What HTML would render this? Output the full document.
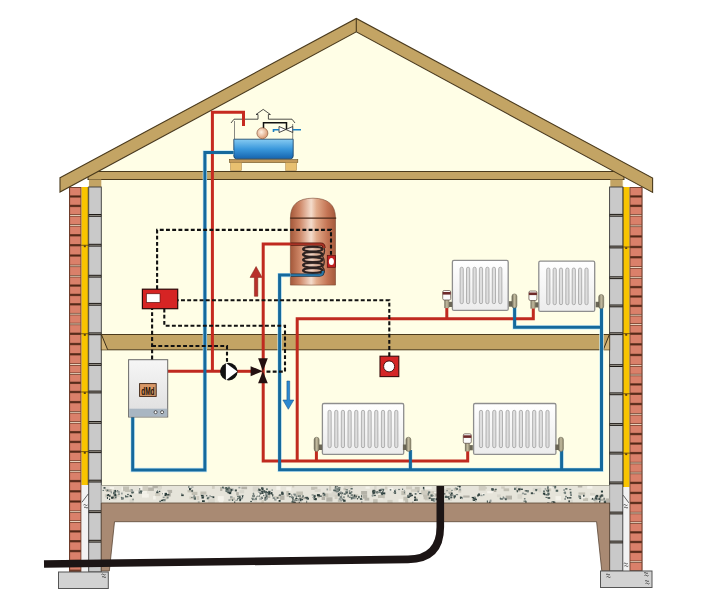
<!DOCTYPE html>
<html><head><meta charset="utf-8"><style>
html,body{margin:0;padding:0;background:#fff;overflow:hidden;width:712px;height:604px;}
svg{display:block;}
</style></head><body>
<svg width="712" height="604" viewBox="0 0 712 604">
<defs><linearGradient id="wat" x1="0" y1="0" x2="0" y2="1"><stop offset="0" stop-color="#86cbf2"/><stop offset="0.5" stop-color="#3a98dc"/><stop offset="1" stop-color="#1664ae"/></linearGradient><radialGradient id="ball" cx="0.4" cy="0.4" r="0.6"><stop offset="0" stop-color="#fff2e4"/><stop offset="1" stop-color="#dc9c74"/></radialGradient><linearGradient id="cop" x1="0" y1="0" x2="1" y2="0"><stop offset="0" stop-color="#a4583a"/><stop offset="0.2" stop-color="#cc8464"/><stop offset="0.46" stop-color="#f4dccc"/><stop offset="0.58" stop-color="#e2ac8c"/><stop offset="0.82" stop-color="#c47454"/><stop offset="1" stop-color="#a45a3c"/></linearGradient><linearGradient id="boil" x1="0" y1="0" x2="0" y2="1"><stop offset="0" stop-color="#f6f6f6"/><stop offset="1" stop-color="#dedede"/></linearGradient><linearGradient id="rad" x1="0" y1="0" x2="0" y2="1"><stop offset="0" stop-color="#ffffff"/><stop offset="1" stop-color="#ececec"/></linearGradient><linearGradient id="lks" x1="0" y1="0" x2="1" y2="0"><stop offset="0" stop-color="#6e6a58"/><stop offset="0.5" stop-color="#c4bca0"/><stop offset="1" stop-color="#8a846c"/></linearGradient></defs>
<rect x="0" y="0" width="712" height="604" fill="#ffffff"/>
<path d="M88,178 L356,32 L624,178 L624,486 L88,486 Z" fill="#fffee6"/>
<rect x="88" y="171.5" width="536" height="8" fill="#c3a464" stroke="#4a3a1c" stroke-width="1"/>
<rect x="89" y="179.5" width="12.3" height="7.5" fill="#c3a464"/>
<rect x="610.3" y="179.5" width="12.4" height="7.5" fill="#c3a464"/>
<rect x="69" y="187" width="12.6" height="385" fill="#6e3c2a"/>
<rect x="70.1" y="187.90" width="10.4" height="7.37" fill="#da806a"/>
<rect x="70.1" y="197.67" width="10.4" height="7.07" fill="#da806a"/>
<rect x="70.1" y="207.13" width="10.4" height="7.07" fill="#da806a"/>
<rect x="70.1" y="216.60" width="10.4" height="7.53" fill="#da806a"/>
<rect x="70.1" y="226.53" width="10.4" height="7.53" fill="#da806a"/>
<rect x="70.1" y="236.47" width="10.4" height="7.53" fill="#da806a"/>
<rect x="70.1" y="246.40" width="10.4" height="7.93" fill="#da806a"/>
<rect x="70.1" y="256.73" width="10.4" height="7.93" fill="#da806a"/>
<rect x="70.1" y="267.07" width="10.4" height="7.93" fill="#da806a"/>
<rect x="70.1" y="277.40" width="10.4" height="6.97" fill="#da806a"/>
<rect x="70.1" y="286.77" width="10.4" height="6.97" fill="#da806a"/>
<rect x="70.1" y="296.13" width="10.4" height="6.97" fill="#da806a"/>
<rect x="70.1" y="305.50" width="10.4" height="7.43" fill="#da806a"/>
<rect x="70.1" y="315.33" width="10.4" height="7.43" fill="#da806a"/>
<rect x="70.1" y="325.17" width="10.4" height="7.43" fill="#da806a"/>
<rect x="70.1" y="335.00" width="10.4" height="7.83" fill="#da806a"/>
<rect x="70.1" y="345.23" width="10.4" height="7.83" fill="#da806a"/>
<rect x="70.1" y="355.47" width="10.4" height="7.83" fill="#da806a"/>
<rect x="70.1" y="365.70" width="10.4" height="6.77" fill="#da806a"/>
<rect x="70.1" y="374.87" width="10.4" height="6.77" fill="#da806a"/>
<rect x="70.1" y="384.03" width="10.4" height="6.77" fill="#da806a"/>
<rect x="70.1" y="393.20" width="10.4" height="7.73" fill="#da806a"/>
<rect x="70.1" y="403.33" width="10.4" height="7.73" fill="#da806a"/>
<rect x="70.1" y="413.47" width="10.4" height="7.73" fill="#da806a"/>
<rect x="70.1" y="423.60" width="10.4" height="7.37" fill="#da806a"/>
<rect x="70.1" y="433.37" width="10.4" height="7.37" fill="#da806a"/>
<rect x="70.1" y="443.13" width="10.4" height="7.37" fill="#da806a"/>
<rect x="70.1" y="452.90" width="10.4" height="7.40" fill="#da806a"/>
<rect x="70.1" y="462.70" width="10.4" height="7.40" fill="#da806a"/>
<rect x="70.1" y="472.50" width="10.4" height="7.40" fill="#da806a"/>
<rect x="70.1" y="482.30" width="10.4" height="7.80" fill="#da806a"/>
<rect x="70.1" y="492.50" width="10.4" height="7.80" fill="#da806a"/>
<rect x="70.1" y="502.70" width="10.4" height="7.80" fill="#da806a"/>
<rect x="70.1" y="512.90" width="10.4" height="7.43" fill="#da806a"/>
<rect x="70.1" y="522.73" width="10.4" height="7.43" fill="#da806a"/>
<rect x="70.1" y="532.57" width="10.4" height="7.43" fill="#da806a"/>
<rect x="70.1" y="542.40" width="10.4" height="7.47" fill="#da806a"/>
<rect x="70.1" y="552.27" width="10.4" height="7.47" fill="#da806a"/>
<rect x="70.1" y="562.13" width="10.4" height="7.47" fill="#da806a"/>
<rect x="70.1" y="196.02" width="10.4" height="0.9" fill="#4e2414"/>
<rect x="70.1" y="205.48" width="10.4" height="0.9" fill="#4e2414"/>
<rect x="70.1" y="214.95" width="10.4" height="0.9" fill="#f4e2cc"/>
<rect x="70.1" y="224.88" width="10.4" height="0.9" fill="#f4e2cc"/>
<rect x="70.1" y="234.82" width="10.4" height="0.9" fill="#4e2414"/>
<rect x="70.1" y="244.75" width="10.4" height="0.9" fill="#4e2414"/>
<rect x="70.1" y="255.08" width="10.4" height="0.9" fill="#4e2414"/>
<rect x="70.1" y="265.42" width="10.4" height="0.9" fill="#f4e2cc"/>
<rect x="70.1" y="275.75" width="10.4" height="0.9" fill="#f4e2cc"/>
<rect x="70.1" y="285.12" width="10.4" height="0.9" fill="#4e2414"/>
<rect x="70.1" y="294.48" width="10.4" height="0.9" fill="#4e2414"/>
<rect x="70.1" y="303.85" width="10.4" height="0.9" fill="#4e2414"/>
<rect x="70.1" y="313.68" width="10.4" height="0.9" fill="#f4e2cc"/>
<rect x="70.1" y="323.52" width="10.4" height="0.9" fill="#f4e2cc"/>
<rect x="70.1" y="333.35" width="10.4" height="0.9" fill="#4e2414"/>
<rect x="70.1" y="343.58" width="10.4" height="0.9" fill="#4e2414"/>
<rect x="70.1" y="353.82" width="10.4" height="0.9" fill="#4e2414"/>
<rect x="70.1" y="364.05" width="10.4" height="0.9" fill="#f4e2cc"/>
<rect x="70.1" y="373.22" width="10.4" height="0.9" fill="#f4e2cc"/>
<rect x="70.1" y="382.38" width="10.4" height="0.9" fill="#4e2414"/>
<rect x="70.1" y="391.55" width="10.4" height="0.9" fill="#4e2414"/>
<rect x="70.1" y="401.68" width="10.4" height="0.9" fill="#4e2414"/>
<rect x="70.1" y="411.82" width="10.4" height="0.9" fill="#f4e2cc"/>
<rect x="70.1" y="421.95" width="10.4" height="0.9" fill="#f4e2cc"/>
<rect x="70.1" y="431.72" width="10.4" height="0.9" fill="#4e2414"/>
<rect x="70.1" y="441.48" width="10.4" height="0.9" fill="#4e2414"/>
<rect x="70.1" y="451.25" width="10.4" height="0.9" fill="#4e2414"/>
<rect x="70.1" y="461.05" width="10.4" height="0.9" fill="#f4e2cc"/>
<rect x="70.1" y="470.85" width="10.4" height="0.9" fill="#f4e2cc"/>
<rect x="70.1" y="480.65" width="10.4" height="0.9" fill="#4e2414"/>
<rect x="70.1" y="490.85" width="10.4" height="0.9" fill="#4e2414"/>
<rect x="70.1" y="501.05" width="10.4" height="0.9" fill="#4e2414"/>
<rect x="70.1" y="511.25" width="10.4" height="0.9" fill="#f4e2cc"/>
<rect x="70.1" y="521.08" width="10.4" height="0.9" fill="#f4e2cc"/>
<rect x="70.1" y="530.92" width="10.4" height="0.9" fill="#4e2414"/>
<rect x="70.1" y="540.75" width="10.4" height="0.9" fill="#4e2414"/>
<rect x="70.1" y="550.62" width="10.4" height="0.9" fill="#4e2414"/>
<rect x="70.1" y="560.48" width="10.4" height="0.9" fill="#f4e2cc"/>
<rect x="81.6" y="187" width="6.8" height="298" fill="#f8c400"/>
<rect x="87.60000000000001" y="187" width="0.8" height="298" fill="#9a7a10"/>
<rect x="81.6" y="485" width="6.8" height="87" fill="#f2f2f2"/>
<rect x="80.6" y="244.8" width="8.8" height="0.8" fill="#5a4010"/>
<rect x="83.8" y="245.4" width="2" height="1.8" fill="#5a4010"/>
<rect x="80.6" y="333.4" width="8.8" height="0.8" fill="#5a4010"/>
<rect x="83.8" y="334.0" width="2" height="1.8" fill="#5a4010"/>
<rect x="80.6" y="391.6" width="8.8" height="0.8" fill="#5a4010"/>
<rect x="83.8" y="392.2" width="2" height="1.8" fill="#5a4010"/>
<rect x="80.6" y="451.3" width="8.8" height="0.8" fill="#5a4010"/>
<rect x="83.8" y="451.9" width="2" height="1.8" fill="#5a4010"/>
<rect x="88.7" y="187" width="12.6" height="385" fill="#c9c9c9" stroke="#3a3a3a" stroke-width="0.9"/>
<rect x="88.7" y="214.00" width="12.6" height="2.8" fill="#1e1a16"/>
<rect x="89.2" y="215.00" width="11.6" height="0.8" fill="#a8a49a"/>
<rect x="88.7" y="243.80" width="12.6" height="2.8" fill="#1e1a16"/>
<rect x="89.2" y="244.80" width="11.6" height="0.8" fill="#a8a49a"/>
<rect x="88.7" y="274.80" width="12.6" height="2.8" fill="#1e1a16"/>
<rect x="89.2" y="275.80" width="11.6" height="0.8" fill="#a8a49a"/>
<rect x="88.7" y="302.90" width="12.6" height="2.8" fill="#1e1a16"/>
<rect x="89.2" y="303.90" width="11.6" height="0.8" fill="#a8a49a"/>
<rect x="88.7" y="332.40" width="12.6" height="2.8" fill="#1e1a16"/>
<rect x="89.2" y="333.40" width="11.6" height="0.8" fill="#a8a49a"/>
<rect x="88.7" y="363.10" width="12.6" height="2.8" fill="#1e1a16"/>
<rect x="89.2" y="364.10" width="11.6" height="0.8" fill="#a8a49a"/>
<rect x="88.7" y="390.60" width="12.6" height="2.8" fill="#1e1a16"/>
<rect x="89.2" y="391.60" width="11.6" height="0.8" fill="#a8a49a"/>
<rect x="88.7" y="421.00" width="12.6" height="2.8" fill="#1e1a16"/>
<rect x="89.2" y="422.00" width="11.6" height="0.8" fill="#a8a49a"/>
<rect x="88.7" y="450.30" width="12.6" height="2.8" fill="#1e1a16"/>
<rect x="89.2" y="451.30" width="11.6" height="0.8" fill="#a8a49a"/>
<rect x="88.7" y="479.70" width="12.6" height="2.8" fill="#1e1a16"/>
<rect x="89.2" y="480.70" width="11.6" height="0.8" fill="#a8a49a"/>
<rect x="88.7" y="510.30" width="12.6" height="2.8" fill="#1e1a16"/>
<rect x="89.2" y="511.30" width="11.6" height="0.8" fill="#a8a49a"/>
<rect x="88.7" y="539.80" width="12.6" height="2.8" fill="#1e1a16"/>
<rect x="89.2" y="540.80" width="11.6" height="0.8" fill="#a8a49a"/>
<rect x="629.3" y="187" width="13.3" height="384" fill="#6e3c2a"/>
<rect x="630.4" y="187.90" width="11.1" height="7.33" fill="#da806a"/>
<rect x="630.4" y="197.63" width="11.1" height="7.03" fill="#da806a"/>
<rect x="630.4" y="207.07" width="11.1" height="7.03" fill="#da806a"/>
<rect x="630.4" y="216.50" width="11.1" height="8.17" fill="#da806a"/>
<rect x="630.4" y="227.07" width="11.1" height="8.17" fill="#da806a"/>
<rect x="630.4" y="237.63" width="11.1" height="8.17" fill="#da806a"/>
<rect x="630.4" y="248.20" width="11.1" height="7.83" fill="#da806a"/>
<rect x="630.4" y="258.43" width="11.1" height="7.83" fill="#da806a"/>
<rect x="630.4" y="268.67" width="11.1" height="7.83" fill="#da806a"/>
<rect x="630.4" y="278.90" width="11.1" height="7.00" fill="#da806a"/>
<rect x="630.4" y="288.30" width="11.1" height="7.00" fill="#da806a"/>
<rect x="630.4" y="297.70" width="11.1" height="7.00" fill="#da806a"/>
<rect x="630.4" y="307.10" width="11.1" height="6.87" fill="#da806a"/>
<rect x="630.4" y="316.37" width="11.1" height="6.87" fill="#da806a"/>
<rect x="630.4" y="325.63" width="11.1" height="6.87" fill="#da806a"/>
<rect x="630.4" y="334.90" width="11.1" height="8.23" fill="#da806a"/>
<rect x="630.4" y="345.53" width="11.1" height="8.23" fill="#da806a"/>
<rect x="630.4" y="356.17" width="11.1" height="8.23" fill="#da806a"/>
<rect x="630.4" y="366.80" width="11.1" height="7.00" fill="#da806a"/>
<rect x="630.4" y="376.20" width="11.1" height="7.00" fill="#da806a"/>
<rect x="630.4" y="385.60" width="11.1" height="7.00" fill="#da806a"/>
<rect x="630.4" y="395.00" width="11.1" height="7.83" fill="#da806a"/>
<rect x="630.4" y="405.23" width="11.1" height="7.83" fill="#da806a"/>
<rect x="630.4" y="415.47" width="11.1" height="7.83" fill="#da806a"/>
<rect x="630.4" y="425.70" width="11.1" height="7.13" fill="#da806a"/>
<rect x="630.4" y="435.23" width="11.1" height="7.13" fill="#da806a"/>
<rect x="630.4" y="444.77" width="11.1" height="7.13" fill="#da806a"/>
<rect x="630.4" y="454.30" width="11.1" height="7.53" fill="#da806a"/>
<rect x="630.4" y="464.23" width="11.1" height="7.53" fill="#da806a"/>
<rect x="630.4" y="474.17" width="11.1" height="7.53" fill="#da806a"/>
<rect x="630.4" y="484.10" width="11.1" height="7.63" fill="#da806a"/>
<rect x="630.4" y="494.13" width="11.1" height="7.63" fill="#da806a"/>
<rect x="630.4" y="504.17" width="11.1" height="7.63" fill="#da806a"/>
<rect x="630.4" y="514.20" width="11.1" height="7.27" fill="#da806a"/>
<rect x="630.4" y="523.87" width="11.1" height="7.27" fill="#da806a"/>
<rect x="630.4" y="533.53" width="11.1" height="7.27" fill="#da806a"/>
<rect x="630.4" y="543.20" width="11.1" height="7.47" fill="#da806a"/>
<rect x="630.4" y="553.07" width="11.1" height="7.47" fill="#da806a"/>
<rect x="630.4" y="562.93" width="11.1" height="7.27" fill="#da806a"/>
<rect x="630.4" y="195.98" width="11.1" height="0.9" fill="#4e2414"/>
<rect x="630.4" y="205.42" width="11.1" height="0.9" fill="#4e2414"/>
<rect x="630.4" y="214.85" width="11.1" height="0.9" fill="#f4e2cc"/>
<rect x="630.4" y="225.42" width="11.1" height="0.9" fill="#f4e2cc"/>
<rect x="630.4" y="235.98" width="11.1" height="0.9" fill="#4e2414"/>
<rect x="630.4" y="246.55" width="11.1" height="0.9" fill="#4e2414"/>
<rect x="630.4" y="256.78" width="11.1" height="0.9" fill="#4e2414"/>
<rect x="630.4" y="267.02" width="11.1" height="0.9" fill="#f4e2cc"/>
<rect x="630.4" y="277.25" width="11.1" height="0.9" fill="#f4e2cc"/>
<rect x="630.4" y="286.65" width="11.1" height="0.9" fill="#4e2414"/>
<rect x="630.4" y="296.05" width="11.1" height="0.9" fill="#4e2414"/>
<rect x="630.4" y="305.45" width="11.1" height="0.9" fill="#4e2414"/>
<rect x="630.4" y="314.72" width="11.1" height="0.9" fill="#f4e2cc"/>
<rect x="630.4" y="323.98" width="11.1" height="0.9" fill="#f4e2cc"/>
<rect x="630.4" y="333.25" width="11.1" height="0.9" fill="#4e2414"/>
<rect x="630.4" y="343.88" width="11.1" height="0.9" fill="#4e2414"/>
<rect x="630.4" y="354.52" width="11.1" height="0.9" fill="#4e2414"/>
<rect x="630.4" y="365.15" width="11.1" height="0.9" fill="#f4e2cc"/>
<rect x="630.4" y="374.55" width="11.1" height="0.9" fill="#f4e2cc"/>
<rect x="630.4" y="383.95" width="11.1" height="0.9" fill="#4e2414"/>
<rect x="630.4" y="393.35" width="11.1" height="0.9" fill="#4e2414"/>
<rect x="630.4" y="403.58" width="11.1" height="0.9" fill="#4e2414"/>
<rect x="630.4" y="413.82" width="11.1" height="0.9" fill="#f4e2cc"/>
<rect x="630.4" y="424.05" width="11.1" height="0.9" fill="#f4e2cc"/>
<rect x="630.4" y="433.58" width="11.1" height="0.9" fill="#4e2414"/>
<rect x="630.4" y="443.12" width="11.1" height="0.9" fill="#4e2414"/>
<rect x="630.4" y="452.65" width="11.1" height="0.9" fill="#4e2414"/>
<rect x="630.4" y="462.58" width="11.1" height="0.9" fill="#f4e2cc"/>
<rect x="630.4" y="472.52" width="11.1" height="0.9" fill="#f4e2cc"/>
<rect x="630.4" y="482.45" width="11.1" height="0.9" fill="#4e2414"/>
<rect x="630.4" y="492.48" width="11.1" height="0.9" fill="#4e2414"/>
<rect x="630.4" y="502.52" width="11.1" height="0.9" fill="#4e2414"/>
<rect x="630.4" y="512.55" width="11.1" height="0.9" fill="#f4e2cc"/>
<rect x="630.4" y="522.22" width="11.1" height="0.9" fill="#f4e2cc"/>
<rect x="630.4" y="531.88" width="11.1" height="0.9" fill="#4e2414"/>
<rect x="630.4" y="541.55" width="11.1" height="0.9" fill="#4e2414"/>
<rect x="630.4" y="551.42" width="11.1" height="0.9" fill="#4e2414"/>
<rect x="630.4" y="561.28" width="11.1" height="0.9" fill="#f4e2cc"/>
<rect x="623.0" y="187" width="6.3" height="300" fill="#f8c400"/>
<rect x="623.0" y="187" width="0.8" height="300" fill="#9a7a10"/>
<rect x="623.0" y="487" width="6.3" height="84" fill="#f2f2f2"/>
<rect x="622.0" y="246.6" width="8.3" height="0.8" fill="#5a4010"/>
<rect x="625.2" y="247.2" width="2" height="1.8" fill="#5a4010"/>
<rect x="622.0" y="333.3" width="8.3" height="0.8" fill="#5a4010"/>
<rect x="625.2" y="333.9" width="2" height="1.8" fill="#5a4010"/>
<rect x="622.0" y="393.4" width="8.3" height="0.8" fill="#5a4010"/>
<rect x="625.2" y="394.0" width="2" height="1.8" fill="#5a4010"/>
<rect x="622.0" y="452.7" width="8.3" height="0.8" fill="#5a4010"/>
<rect x="625.2" y="453.3" width="2" height="1.8" fill="#5a4010"/>
<rect x="609.6" y="187" width="13.2" height="384" fill="#c9c9c9" stroke="#3a3a3a" stroke-width="0.9"/>
<rect x="609.6" y="213.90" width="13.2" height="2.8" fill="#1e1a16"/>
<rect x="610.1" y="214.90" width="12.2" height="0.8" fill="#a8a49a"/>
<rect x="609.6" y="245.60" width="13.2" height="2.8" fill="#1e1a16"/>
<rect x="610.1" y="246.60" width="12.2" height="0.8" fill="#a8a49a"/>
<rect x="609.6" y="276.30" width="13.2" height="2.8" fill="#1e1a16"/>
<rect x="610.1" y="277.30" width="12.2" height="0.8" fill="#a8a49a"/>
<rect x="609.6" y="304.50" width="13.2" height="2.8" fill="#1e1a16"/>
<rect x="610.1" y="305.50" width="12.2" height="0.8" fill="#a8a49a"/>
<rect x="609.6" y="332.30" width="13.2" height="2.8" fill="#1e1a16"/>
<rect x="610.1" y="333.30" width="12.2" height="0.8" fill="#a8a49a"/>
<rect x="609.6" y="364.20" width="13.2" height="2.8" fill="#1e1a16"/>
<rect x="610.1" y="365.20" width="12.2" height="0.8" fill="#a8a49a"/>
<rect x="609.6" y="392.40" width="13.2" height="2.8" fill="#1e1a16"/>
<rect x="610.1" y="393.40" width="12.2" height="0.8" fill="#a8a49a"/>
<rect x="609.6" y="423.10" width="13.2" height="2.8" fill="#1e1a16"/>
<rect x="610.1" y="424.10" width="12.2" height="0.8" fill="#a8a49a"/>
<rect x="609.6" y="451.70" width="13.2" height="2.8" fill="#1e1a16"/>
<rect x="610.1" y="452.70" width="12.2" height="0.8" fill="#a8a49a"/>
<rect x="609.6" y="481.50" width="13.2" height="2.8" fill="#1e1a16"/>
<rect x="610.1" y="482.50" width="12.2" height="0.8" fill="#a8a49a"/>
<rect x="609.6" y="511.60" width="13.2" height="2.8" fill="#1e1a16"/>
<rect x="610.1" y="512.60" width="12.2" height="0.8" fill="#a8a49a"/>
<rect x="609.6" y="540.60" width="13.2" height="2.8" fill="#1e1a16"/>
<rect x="610.1" y="541.60" width="12.2" height="0.8" fill="#a8a49a"/>
<path d="M88.3,493.9 L81.9,502.3" stroke="#222" stroke-width="0.7" fill="none"/>
<path d="M623.2,495.2 L628.8,502.8" stroke="#222" stroke-width="0.7" fill="none"/>
<path d="M83.5,505.0 q1,-1 2,0 q1,1 2,0 M84.0,507.5 q1,-1 2,0 q1,1 2,0" stroke="#222" stroke-width="0.7" fill="none"/>
<path d="M623.5,505.0 q1,-1 2,0 q1,1 2,0 M624.0,507.5 q1,-1 2,0 q1,1 2,0" stroke="#222" stroke-width="0.7" fill="none"/>
<path d="M623.8,563.5 q1,-1 2,0 q1,1 2,0 M624.3,566 q1,-1 2,0 q1,1 2,0" stroke="#222" stroke-width="0.7" fill="none"/>
<rect x="101.3" y="334.5" width="508.3" height="15.3" fill="#c3a464" stroke="#4a3a1c" stroke-width="1"/>
<path d="M101.8,335.2 L107.5,349.4 L101.8,349.4 Z" fill="#d4b678"/>
<path d="M609.2,335.2 L603.5,349.4 L609.2,349.4 Z" fill="#d4b678"/>
<path d="M101.6,335 L107.6,349.6" stroke="#2a2010" stroke-width="0.9"/>
<path d="M609.2,335 L603.4,349.6" stroke="#2a2010" stroke-width="0.9"/>
<filter id="sb" x="-10%" y="-50%" width="120%" height="200%"><feGaussianBlur stdDeviation="0.45"/></filter>
<clipPath id="slabclip"><rect x="101.5" y="485.3" width="508" height="17.7"/></clipPath>
<rect x="101.5" y="485.3" width="508" height="17.7" fill="#e6e4da"/>
<g clip-path="url(#slabclip)" filter="url(#sb)">
<rect x="328.9" y="493.4" width="6.6" height="3.4" fill="#d8d6cc"/>
<rect x="532.7" y="487.8" width="6.0" height="3.4" fill="#d8d6cc"/>
<rect x="501.2" y="486.4" width="3.5" height="2.3" fill="#cfccc0"/>
<rect x="401.3" y="490.9" width="4.3" height="4.2" fill="#c2c0b4"/>
<rect x="415.3" y="497.5" width="2.3" height="2.1" fill="#c2c0b4"/>
<rect x="403.4" y="496.7" width="3.6" height="3.8" fill="#c2c0b4"/>
<rect x="362.7" y="494.6" width="4.5" height="4.0" fill="#b4b2a8"/>
<rect x="431.3" y="491.1" width="4.8" height="4.8" fill="#cfccc0"/>
<rect x="458.2" y="489.7" width="3.1" height="2.9" fill="#cfccc0"/>
<rect x="384.9" y="486.6" width="2.5" height="2.9" fill="#cfccc0"/>
<rect x="584.8" y="497.7" width="2.0" height="2.6" fill="#cfccc0"/>
<rect x="337.8" y="499.7" width="4.0" height="2.2" fill="#c2c0b4"/>
<rect x="493.9" y="489.0" width="2.4" height="3.0" fill="#b4b2a8"/>
<rect x="483.6" y="486.8" width="3.2" height="2.3" fill="#cfccc0"/>
<rect x="335.3" y="492.3" width="5.4" height="2.6" fill="#d8d6cc"/>
<rect x="196.5" y="496.0" width="2.7" height="3.9" fill="#cfccc0"/>
<rect x="299.8" y="499.9" width="2.0" height="4.6" fill="#d8d6cc"/>
<rect x="253.9" y="498.3" width="3.1" height="3.2" fill="#d8d6cc"/>
<rect x="424.8" y="486.5" width="6.9" height="2.6" fill="#f4f2ea"/>
<rect x="104.8" y="494.2" width="6.2" height="3.2" fill="#cfccc0"/>
<rect x="145.6" y="493.7" width="3.2" height="3.8" fill="#f4f2ea"/>
<rect x="414.8" y="486.9" width="4.9" height="4.5" fill="#c2c0b4"/>
<rect x="538.5" y="487.7" width="2.8" height="4.7" fill="#d8d6cc"/>
<rect x="226.2" y="487.8" width="5.7" height="4.8" fill="#c2c0b4"/>
<rect x="447.6" y="490.8" width="4.4" height="2.2" fill="#cfccc0"/>
<rect x="152.5" y="485.6" width="6.8" height="2.7" fill="#b4b2a8"/>
<rect x="230.0" y="497.4" width="5.0" height="2.9" fill="#c2c0b4"/>
<rect x="570.2" y="499.7" width="2.6" height="3.4" fill="#d8d6cc"/>
<rect x="410.8" y="489.2" width="6.6" height="2.6" fill="#cfccc0"/>
<rect x="135.0" y="491.2" width="3.2" height="2.1" fill="#f4f2ea"/>
<rect x="286.6" y="493.6" width="2.7" height="3.1" fill="#b4b2a8"/>
<rect x="596.1" y="494.9" width="5.5" height="3.8" fill="#c2c0b4"/>
<rect x="398.5" y="498.9" width="4.4" height="3.1" fill="#f4f2ea"/>
<rect x="587.2" y="485.3" width="5.2" height="3.4" fill="#f4f2ea"/>
<rect x="261.4" y="500.0" width="2.4" height="3.6" fill="#cfccc0"/>
<rect x="555.5" y="496.1" width="5.5" height="4.4" fill="#f4f2ea"/>
<rect x="278.0" y="495.3" width="6.5" height="4.6" fill="#b4b2a8"/>
<rect x="577.8" y="485.5" width="4.5" height="2.0" fill="#b4b2a8"/>
<rect x="291.9" y="485.2" width="2.4" height="2.3" fill="#cfccc0"/>
<rect x="602.6" y="498.2" width="5.6" height="3.2" fill="#d8d6cc"/>
<rect x="331.6" y="491.9" width="4.7" height="3.6" fill="#d8d6cc"/>
<rect x="115.1" y="494.0" width="4.4" height="2.7" fill="#cfccc0"/>
<rect x="351.6" y="494.2" width="6.6" height="2.8" fill="#cfccc0"/>
<rect x="286.2" y="487.1" width="5.1" height="3.6" fill="#f4f2ea"/>
<rect x="434.0" y="491.6" width="6.5" height="3.0" fill="#f4f2ea"/>
<rect x="200.4" y="491.5" width="6.0" height="4.7" fill="#c2c0b4"/>
<rect x="294.5" y="493.7" width="3.6" height="2.4" fill="#b4b2a8"/>
<rect x="277.5" y="498.4" width="2.2" height="2.2" fill="#f4f2ea"/>
<rect x="515.9" y="486.7" width="4.4" height="4.8" fill="#b4b2a8"/>
<rect x="293.6" y="492.8" width="5.4" height="4.1" fill="#d8d6cc"/>
<rect x="329.0" y="486.1" width="2.2" height="4.6" fill="#cfccc0"/>
<rect x="443.2" y="489.2" width="3.8" height="3.9" fill="#d8d6cc"/>
<rect x="109.7" y="487.0" width="4.3" height="2.1" fill="#f4f2ea"/>
<rect x="220.1" y="487.1" width="2.2" height="3.9" fill="#b4b2a8"/>
<rect x="155.2" y="493.0" width="5.2" height="3.1" fill="#cfccc0"/>
<rect x="446.4" y="488.0" width="4.4" height="2.5" fill="#cfccc0"/>
<rect x="482.1" y="493.0" width="2.2" height="2.7" fill="#f4f2ea"/>
<rect x="373.1" y="499.2" width="4.5" height="5.0" fill="#c2c0b4"/>
<rect x="299.1" y="496.9" width="6.5" height="2.3" fill="#b4b2a8"/>
<rect x="165.7" y="491.8" width="5.1" height="4.7" fill="#b4b2a8"/>
<rect x="378.3" y="494.8" width="4.5" height="4.5" fill="#f4f2ea"/>
<rect x="334.6" y="494.8" width="3.0" height="4.2" fill="#cfccc0"/>
<rect x="207.9" y="498.5" width="6.9" height="4.9" fill="#d8d6cc"/>
<rect x="594.2" y="499.0" width="3.3" height="4.2" fill="#cfccc0"/>
<rect x="276.3" y="486.2" width="4.2" height="3.7" fill="#f4f2ea"/>
<rect x="346.6" y="485.4" width="6.0" height="2.2" fill="#cfccc0"/>
<rect x="187.5" y="490.0" width="5.9" height="2.4" fill="#c2c0b4"/>
<rect x="605.9" y="498.5" width="4.6" height="4.0" fill="#b4b2a8"/>
<rect x="578.5" y="492.4" width="6.7" height="2.3" fill="#c2c0b4"/>
<rect x="322.3" y="493.4" width="6.2" height="3.7" fill="#c2c0b4"/>
<rect x="364.5" y="497.7" width="4.8" height="2.9" fill="#b4b2a8"/>
<rect x="583.1" y="498.1" width="5.0" height="2.9" fill="#c2c0b4"/>
<rect x="590.0" y="492.9" width="4.9" height="2.6" fill="#d8d6cc"/>
<rect x="157.8" y="485.1" width="3.9" height="3.6" fill="#cfccc0"/>
<rect x="361.1" y="491.0" width="6.0" height="3.7" fill="#b4b2a8"/>
<rect x="147.2" y="487.5" width="6.7" height="3.4" fill="#b4b2a8"/>
<rect x="236.2" y="492.1" width="2.6" height="3.3" fill="#b4b2a8"/>
<rect x="365.6" y="486.6" width="4.1" height="2.1" fill="#f4f2ea"/>
<rect x="165.5" y="496.7" width="2.1" height="2.6" fill="#c2c0b4"/>
<rect x="106.0" y="489.3" width="5.6" height="2.7" fill="#b4b2a8"/>
<rect x="153.1" y="496.0" width="2.6" height="3.5" fill="#f4f2ea"/>
<rect x="463.2" y="495.5" width="6.4" height="2.1" fill="#b4b2a8"/>
<rect x="517.5" y="494.2" width="4.7" height="4.6" fill="#d8d6cc"/>
<rect x="423.1" y="492.9" width="6.3" height="3.8" fill="#c2c0b4"/>
<rect x="217.7" y="496.1" width="6.1" height="4.7" fill="#f4f2ea"/>
<rect x="405.2" y="498.4" width="3.0" height="4.3" fill="#c2c0b4"/>
<rect x="549.1" y="487.0" width="3.2" height="4.2" fill="#f4f2ea"/>
<rect x="296.3" y="491.5" width="6.7" height="3.6" fill="#c2c0b4"/>
<rect x="201.5" y="494.4" width="6.0" height="2.3" fill="#d8d6cc"/>
<rect x="445.3" y="498.7" width="6.8" height="2.3" fill="#d8d6cc"/>
<rect x="421.1" y="490.2" width="7.0" height="4.5" fill="#cfccc0"/>
<rect x="343.9" y="485.4" width="5.8" height="3.8" fill="#d8d6cc"/>
<rect x="343.5" y="487.8" width="2.6" height="2.5" fill="#c2c0b4"/>
<rect x="601.1" y="498.9" width="2.5" height="2.2" fill="#b4b2a8"/>
<rect x="139.3" y="486.5" width="4.0" height="3.3" fill="#f4f2ea"/>
<rect x="317.6" y="494.0" width="2.1" height="4.1" fill="#c2c0b4"/>
<rect x="191.7" y="491.8" width="5.7" height="3.2" fill="#c2c0b4"/>
<rect x="406.1" y="486.4" width="6.0" height="3.0" fill="#cfccc0"/>
<rect x="505.7" y="495.6" width="6.3" height="3.9" fill="#b4b2a8"/>
<rect x="388.3" y="487.9" width="4.9" height="3.0" fill="#f4f2ea"/>
<rect x="241.4" y="486.7" width="5.7" height="2.5" fill="#b4b2a8"/>
<rect x="167.4" y="489.9" width="4.7" height="3.1" fill="#b4b2a8"/>
<rect x="487.2" y="491.1" width="5.6" height="2.2" fill="#f4f2ea"/>
<rect x="252.7" y="486.5" width="6.4" height="5.0" fill="#d8d6cc"/>
<rect x="125.1" y="489.1" width="6.8" height="2.9" fill="#c2c0b4"/>
<rect x="433.8" y="493.5" width="4.7" height="3.2" fill="#b4b2a8"/>
<rect x="425.0" y="495.5" width="5.8" height="4.9" fill="#cfccc0"/>
<rect x="158.1" y="486.6" width="3.2" height="3.3" fill="#d8d6cc"/>
<rect x="125.5" y="487.9" width="3.9" height="2.3" fill="#f4f2ea"/>
<rect x="239.5" y="490.1" width="4.7" height="3.2" fill="#d8d6cc"/>
<rect x="387.4" y="499.9" width="5.2" height="4.4" fill="#cfccc0"/>
<rect x="378.0" y="495.0" width="6.8" height="3.2" fill="#c2c0b4"/>
<rect x="295.3" y="499.6" width="6.3" height="3.6" fill="#d8d6cc"/>
<rect x="129.6" y="499.2" width="4.1" height="3.6" fill="#d8d6cc"/>
<rect x="258.1" y="493.0" width="4.4" height="2.8" fill="#f4f2ea"/>
<rect x="435.8" y="496.2" width="2.1" height="4.3" fill="#d8d6cc"/>
<rect x="121.6" y="487.3" width="5.8" height="3.2" fill="#f4f2ea"/>
<rect x="478.7" y="485.8" width="6.9" height="4.8" fill="#cfccc0"/>
<rect x="503.6" y="488.4" width="5.6" height="2.8" fill="#c2c0b4"/>
<rect x="123.0" y="486.5" width="6.1" height="4.7" fill="#c2c0b4"/>
<rect x="595.3" y="497.3" width="5.0" height="2.3" fill="#d8d6cc"/>
<rect x="311.1" y="486.8" width="6.3" height="3.1" fill="#c2c0b4"/>
<rect x="162.9" y="491.6" width="5.3" height="3.4" fill="#f4f2ea"/>
<rect x="423.6" y="495.2" width="3.8" height="4.2" fill="#c2c0b4"/>
<rect x="582.0" y="496.0" width="3.2" height="2.3" fill="#f4f2ea"/>
<rect x="496.9" y="494.4" width="3.8" height="2.8" fill="#d8d6cc"/>
<rect x="453.7" y="487.9" width="3.4" height="2.7" fill="#c2c0b4"/>
<rect x="354.1" y="494.8" width="3.0" height="4.0" fill="#cfccc0"/>
<rect x="104.8" y="488.9" width="2.1" height="2.1" fill="#c2c0b4"/>
<rect x="374.1" y="486.1" width="2.4" height="4.0" fill="#d8d6cc"/>
<rect x="218.8" y="499.7" width="4.4" height="3.1" fill="#f4f2ea"/>
<rect x="273.9" y="496.2" width="6.2" height="2.2" fill="#cfccc0"/>
<rect x="326.3" y="497.3" width="6.2" height="4.3" fill="#b4b2a8"/>
<rect x="314.7" y="488.9" width="6.0" height="3.1" fill="#d8d6cc"/>
<rect x="264.6" y="493.2" width="5.7" height="4.8" fill="#b4b2a8"/>
<rect x="430.8" y="493.7" width="4.3" height="3.0" fill="#d8d6cc"/>
<rect x="142.0" y="493.5" width="4.4" height="4.1" fill="#f4f2ea"/>
<rect x="516.7" y="485.1" width="3.6" height="4.7" fill="#d8d6cc"/>
<rect x="141.3" y="489.6" width="5.6" height="4.1" fill="#f4f2ea"/>
<rect x="546.1" y="488.3" width="5.3" height="3.0" fill="#cfccc0"/>
<rect x="263.2" y="491.6" width="5.0" height="4.7" fill="#f4f2ea"/>
<rect x="321.6" y="497.0" width="3.5" height="3.0" fill="#b4b2a8"/>
<rect x="589.7" y="495.9" width="4.6" height="2.3" fill="#f4f2ea"/>
<rect x="112.2" y="495.2" width="4.9" height="4.4" fill="#d8d6cc"/>
<rect x="286.3" y="490.9" width="2.8" height="3.8" fill="#c2c0b4"/>
<rect x="189.4" y="496.4" width="6.4" height="2.8" fill="#cfccc0"/>
<rect x="211.9" y="485.9" width="2.8" height="2.9" fill="#cfccc0"/>
<rect x="429.5" y="497.1" width="2.3" height="3.6" fill="#d8d6cc"/>
<rect x="142.5" y="486.2" width="5.7" height="4.7" fill="#cfccc0"/>
<rect x="113.1" y="494.8" width="2.5" height="4.4" fill="#b4b2a8"/>
<rect x="225.6" y="489.9" width="1.5" height="2.1" fill="#50605c"/>
<rect x="227.9" y="490.1" width="1.8" height="2.0" fill="#949c98"/>
<rect x="229.6" y="489.6" width="2.3" height="1.9" fill="#2c3c3a"/>
<rect x="228.8" y="491.8" width="2.4" height="2.3" fill="#2c3c3a"/>
<rect x="226.9" y="491.1" width="2.3" height="1.5" fill="#74807c"/>
<rect x="229.6" y="488.8" width="1.2" height="1.9" fill="#3a4a48"/>
<rect x="263.3" y="494.8" width="1.0" height="1.4" fill="#2c3c3a"/>
<rect x="263.3" y="490.7" width="2.5" height="2.3" fill="#74807c"/>
<rect x="261.3" y="492.4" width="2.3" height="1.4" fill="#3a4a48"/>
<rect x="262.5" y="491.0" width="1.3" height="2.0" fill="#949c98"/>
<rect x="264.8" y="492.2" width="2.4" height="1.5" fill="#50605c"/>
<rect x="265.6" y="494.7" width="1.8" height="2.2" fill="#74807c"/>
<rect x="551.4" y="501.2" width="1.1" height="2.2" fill="#74807c"/>
<rect x="547.1" y="502.0" width="2.3" height="1.5" fill="#949c98"/>
<rect x="552.3" y="501.2" width="2.2" height="1.0" fill="#3a4a48"/>
<rect x="553.0" y="501.7" width="2.4" height="1.6" fill="#3a4a48"/>
<rect x="461.9" y="496.8" width="1.1" height="2.3" fill="#949c98"/>
<rect x="459.9" y="496.7" width="2.0" height="1.7" fill="#2c3c3a"/>
<rect x="460.1" y="496.8" width="0.9" height="2.1" fill="#3a4a48"/>
<rect x="518.1" y="488.3" width="2.4" height="1.9" fill="#2c3c3a"/>
<rect x="520.5" y="488.6" width="2.4" height="1.4" fill="#3a4a48"/>
<rect x="516.8" y="490.2" width="1.1" height="2.1" fill="#3a4a48"/>
<rect x="514.1" y="487.7" width="1.7" height="2.3" fill="#50605c"/>
<rect x="261.0" y="492.5" width="2.1" height="1.4" fill="#3a4a48"/>
<rect x="259.6" y="492.1" width="1.7" height="2.4" fill="#2c3c3a"/>
<rect x="263.4" y="490.2" width="1.5" height="2.0" fill="#3a4a48"/>
<rect x="260.9" y="490.7" width="2.2" height="2.2" fill="#3a4a48"/>
<rect x="265.1" y="490.9" width="2.0" height="2.3" fill="#50605c"/>
<rect x="265.5" y="494.0" width="1.8" height="1.0" fill="#3a4a48"/>
<rect x="202.4" y="496.1" width="1.7" height="1.9" fill="#74807c"/>
<rect x="206.1" y="495.2" width="1.1" height="1.0" fill="#3a4a48"/>
<rect x="201.5" y="496.8" width="2.3" height="1.8" fill="#2c3c3a"/>
<rect x="201.0" y="494.9" width="2.6" height="1.6" fill="#2c3c3a"/>
<rect x="272.7" y="497.1" width="1.2" height="1.9" fill="#74807c"/>
<rect x="274.0" y="498.1" width="0.9" height="1.5" fill="#50605c"/>
<rect x="278.6" y="500.0" width="2.0" height="1.8" fill="#2c3c3a"/>
<rect x="273.5" y="497.0" width="1.4" height="1.6" fill="#949c98"/>
<rect x="274.3" y="498.6" width="2.2" height="2.1" fill="#949c98"/>
<rect x="276.7" y="497.3" width="1.8" height="1.3" fill="#3a4a48"/>
<rect x="281.2" y="492.5" width="2.5" height="2.4" fill="#3a4a48"/>
<rect x="281.2" y="491.6" width="2.0" height="2.1" fill="#3a4a48"/>
<rect x="278.9" y="494.4" width="2.1" height="1.4" fill="#50605c"/>
<rect x="240.5" y="497.5" width="2.4" height="1.7" fill="#949c98"/>
<rect x="234.1" y="501.4" width="1.2" height="2.0" fill="#50605c"/>
<rect x="237.9" y="497.5" width="2.3" height="1.3" fill="#50605c"/>
<rect x="235.3" y="499.7" width="2.3" height="1.2" fill="#949c98"/>
<rect x="239.3" y="499.1" width="1.6" height="2.1" fill="#3a4a48"/>
<rect x="260.9" y="497.0" width="2.0" height="2.0" fill="#3a4a48"/>
<rect x="256.0" y="496.2" width="1.1" height="1.5" fill="#949c98"/>
<rect x="257.4" y="495.6" width="1.1" height="1.3" fill="#50605c"/>
<rect x="254.9" y="497.8" width="2.1" height="2.1" fill="#74807c"/>
<rect x="261.3" y="496.9" width="1.7" height="1.5" fill="#949c98"/>
<rect x="260.9" y="496.7" width="1.6" height="1.3" fill="#74807c"/>
<rect x="260.4" y="498.2" width="1.6" height="1.6" fill="#949c98"/>
<rect x="160.9" y="499.8" width="2.4" height="1.4" fill="#2c3c3a"/>
<rect x="159.3" y="500.7" width="1.6" height="1.5" fill="#50605c"/>
<rect x="162.5" y="499.2" width="1.9" height="1.0" fill="#2c3c3a"/>
<rect x="163.2" y="498.9" width="2.4" height="2.4" fill="#74807c"/>
<rect x="453.5" y="495.2" width="2.5" height="2.2" fill="#50605c"/>
<rect x="455.8" y="494.0" width="2.3" height="1.2" fill="#74807c"/>
<rect x="453.7" y="496.4" width="1.1" height="2.1" fill="#2c3c3a"/>
<rect x="544.1" y="493.8" width="1.4" height="1.4" fill="#2c3c3a"/>
<rect x="547.2" y="494.8" width="1.8" height="1.1" fill="#949c98"/>
<rect x="545.7" y="494.1" width="1.7" height="1.4" fill="#50605c"/>
<rect x="547.6" y="497.2" width="2.6" height="1.6" fill="#3a4a48"/>
<rect x="545.5" y="496.9" width="2.1" height="1.0" fill="#50605c"/>
<rect x="521.9" y="492.6" width="2.1" height="1.7" fill="#949c98"/>
<rect x="526.2" y="490.4" width="2.4" height="1.0" fill="#2c3c3a"/>
<rect x="524.0" y="493.5" width="2.5" height="1.3" fill="#74807c"/>
<rect x="526.8" y="490.1" width="2.1" height="2.3" fill="#74807c"/>
<rect x="524.7" y="490.3" width="2.4" height="1.1" fill="#3a4a48"/>
<rect x="239.7" y="498.5" width="1.5" height="1.9" fill="#2c3c3a"/>
<rect x="239.2" y="495.7" width="1.4" height="2.3" fill="#3a4a48"/>
<rect x="237.0" y="497.8" width="1.1" height="2.4" fill="#74807c"/>
<rect x="241.5" y="495.0" width="2.4" height="0.9" fill="#949c98"/>
<rect x="237.0" y="495.8" width="2.3" height="1.0" fill="#50605c"/>
<rect x="242.0" y="495.5" width="1.2" height="2.0" fill="#2c3c3a"/>
<rect x="197.8" y="501.6" width="1.9" height="0.9" fill="#74807c"/>
<rect x="193.8" y="497.4" width="2.2" height="2.3" fill="#50605c"/>
<rect x="433.3" y="499.6" width="2.0" height="2.4" fill="#949c98"/>
<rect x="432.5" y="499.4" width="1.2" height="1.8" fill="#3a4a48"/>
<rect x="435.9" y="498.2" width="1.3" height="2.0" fill="#3a4a48"/>
<rect x="433.1" y="498.2" width="2.3" height="1.8" fill="#50605c"/>
<rect x="431.5" y="498.4" width="2.1" height="1.8" fill="#3a4a48"/>
<rect x="433.5" y="498.5" width="1.9" height="2.1" fill="#949c98"/>
<rect x="322.6" y="492.7" width="1.9" height="1.7" fill="#3a4a48"/>
<rect x="326.5" y="488.5" width="1.6" height="1.9" fill="#949c98"/>
<rect x="475.2" y="498.7" width="1.8" height="1.5" fill="#3a4a48"/>
<rect x="472.8" y="498.9" width="2.3" height="2.1" fill="#2c3c3a"/>
<rect x="473.9" y="497.8" width="2.1" height="2.0" fill="#2c3c3a"/>
<rect x="472.6" y="499.2" width="1.9" height="1.1" fill="#74807c"/>
<rect x="475.3" y="500.4" width="0.9" height="1.5" fill="#949c98"/>
<rect x="472.7" y="497.4" width="1.4" height="1.5" fill="#2c3c3a"/>
<rect x="594.6" y="497.7" width="1.3" height="1.3" fill="#949c98"/>
<rect x="595.2" y="496.1" width="1.0" height="1.2" fill="#50605c"/>
<rect x="591.6" y="498.9" width="1.9" height="1.0" fill="#74807c"/>
<rect x="593.3" y="499.0" width="2.2" height="1.8" fill="#949c98"/>
<rect x="595.7" y="494.9" width="2.4" height="2.3" fill="#3a4a48"/>
<rect x="591.9" y="497.9" width="1.3" height="1.4" fill="#3a4a48"/>
<rect x="594.8" y="498.0" width="1.7" height="1.5" fill="#949c98"/>
<rect x="338.7" y="492.0" width="1.2" height="1.6" fill="#949c98"/>
<rect x="337.9" y="489.2" width="2.1" height="1.4" fill="#50605c"/>
<rect x="339.6" y="491.4" width="2.2" height="1.7" fill="#949c98"/>
<rect x="341.7" y="492.4" width="1.4" height="1.4" fill="#3a4a48"/>
<rect x="340.3" y="492.7" width="1.1" height="1.3" fill="#2c3c3a"/>
<rect x="112.9" y="493.3" width="1.5" height="1.3" fill="#949c98"/>
<rect x="114.5" y="490.5" width="1.9" height="1.6" fill="#3a4a48"/>
<rect x="110.8" y="492.0" width="1.0" height="1.4" fill="#74807c"/>
<rect x="113.1" y="492.5" width="1.8" height="1.7" fill="#50605c"/>
<rect x="114.9" y="492.3" width="1.2" height="1.2" fill="#50605c"/>
<rect x="371.8" y="495.1" width="1.3" height="1.3" fill="#50605c"/>
<rect x="373.4" y="491.5" width="2.3" height="2.0" fill="#74807c"/>
<rect x="373.1" y="494.8" width="2.6" height="1.3" fill="#2c3c3a"/>
<rect x="565.2" y="488.1" width="2.2" height="1.5" fill="#50605c"/>
<rect x="563.3" y="489.7" width="1.6" height="1.0" fill="#74807c"/>
<rect x="569.2" y="488.9" width="2.1" height="1.2" fill="#74807c"/>
<rect x="564.1" y="491.4" width="1.5" height="2.0" fill="#949c98"/>
<rect x="563.4" y="489.2" width="1.6" height="1.1" fill="#949c98"/>
<rect x="564.5" y="491.8" width="1.4" height="2.3" fill="#74807c"/>
<rect x="563.6" y="492.1" width="2.5" height="1.3" fill="#74807c"/>
<rect x="354.3" y="497.1" width="1.0" height="1.0" fill="#50605c"/>
<rect x="355.5" y="495.5" width="1.3" height="1.9" fill="#3a4a48"/>
<rect x="353.8" y="494.6" width="1.5" height="2.2" fill="#2c3c3a"/>
<rect x="353.3" y="497.4" width="2.2" height="1.8" fill="#949c98"/>
<rect x="353.1" y="495.8" width="1.0" height="1.0" fill="#74807c"/>
<rect x="543.1" y="490.5" width="1.8" height="1.4" fill="#50605c"/>
<rect x="546.2" y="490.0" width="1.9" height="1.3" fill="#50605c"/>
<rect x="547.6" y="491.0" width="0.9" height="1.7" fill="#74807c"/>
<rect x="542.9" y="492.6" width="2.3" height="2.0" fill="#2c3c3a"/>
<rect x="547.3" y="492.7" width="2.3" height="2.4" fill="#50605c"/>
<rect x="234.8" y="489.5" width="2.1" height="1.9" fill="#3a4a48"/>
<rect x="238.4" y="486.8" width="2.0" height="1.6" fill="#949c98"/>
<rect x="252.8" y="493.0" width="1.3" height="1.3" fill="#50605c"/>
<rect x="252.5" y="494.9" width="2.2" height="2.2" fill="#2c3c3a"/>
<rect x="253.2" y="494.7" width="1.4" height="2.2" fill="#949c98"/>
<rect x="252.9" y="492.7" width="1.2" height="2.2" fill="#74807c"/>
<rect x="131.6" y="491.5" width="1.3" height="1.9" fill="#50605c"/>
<rect x="131.4" y="489.7" width="1.5" height="2.0" fill="#949c98"/>
<rect x="132.2" y="490.9" width="1.6" height="2.0" fill="#949c98"/>
<rect x="131.6" y="489.4" width="1.2" height="1.2" fill="#949c98"/>
<rect x="131.1" y="489.2" width="1.2" height="0.9" fill="#949c98"/>
<rect x="131.3" y="492.0" width="2.5" height="1.3" fill="#50605c"/>
<rect x="313.5" y="496.7" width="1.1" height="1.1" fill="#2c3c3a"/>
<rect x="316.9" y="494.3" width="1.5" height="1.7" fill="#2c3c3a"/>
<rect x="313.7" y="497.9" width="2.3" height="2.2" fill="#3a4a48"/>
<rect x="313.4" y="494.9" width="2.3" height="2.2" fill="#50605c"/>
<rect x="312.4" y="496.9" width="1.6" height="1.1" fill="#949c98"/>
<rect x="297.7" y="498.5" width="1.7" height="2.2" fill="#949c98"/>
<rect x="302.3" y="495.5" width="1.7" height="1.1" fill="#50605c"/>
<rect x="301.9" y="495.6" width="1.9" height="1.3" fill="#74807c"/>
<rect x="297.6" y="495.4" width="1.7" height="1.4" fill="#50605c"/>
<rect x="299.6" y="495.0" width="0.9" height="2.0" fill="#2c3c3a"/>
<rect x="295.8" y="495.9" width="1.1" height="2.1" fill="#74807c"/>
<rect x="346.3" y="490.6" width="1.8" height="1.9" fill="#949c98"/>
<rect x="345.3" y="491.2" width="1.4" height="1.3" fill="#74807c"/>
<rect x="347.6" y="495.0" width="1.0" height="2.2" fill="#3a4a48"/>
<rect x="347.3" y="493.7" width="1.4" height="0.9" fill="#949c98"/>
<rect x="345.7" y="492.9" width="0.9" height="1.2" fill="#50605c"/>
<rect x="343.6" y="492.9" width="2.3" height="2.1" fill="#74807c"/>
<rect x="306.1" y="500.7" width="1.1" height="2.3" fill="#74807c"/>
<rect x="306.6" y="497.8" width="2.4" height="1.8" fill="#2c3c3a"/>
<rect x="304.8" y="496.9" width="1.6" height="1.5" fill="#50605c"/>
<rect x="306.4" y="497.6" width="2.0" height="1.4" fill="#50605c"/>
<rect x="301.2" y="499.0" width="1.9" height="1.3" fill="#3a4a48"/>
<rect x="305.9" y="496.8" width="2.2" height="1.7" fill="#3a4a48"/>
<rect x="302.0" y="496.3" width="1.1" height="1.4" fill="#74807c"/>
<rect x="113.4" y="491.7" width="1.8" height="2.3" fill="#3a4a48"/>
<rect x="110.7" y="491.0" width="1.0" height="1.8" fill="#949c98"/>
<rect x="600.7" y="494.4" width="2.4" height="2.1" fill="#2c3c3a"/>
<rect x="601.9" y="495.3" width="1.4" height="1.2" fill="#50605c"/>
<rect x="600.9" y="490.6" width="2.1" height="1.9" fill="#2c3c3a"/>
<rect x="212.5" y="496.3" width="1.8" height="1.8" fill="#2c3c3a"/>
<rect x="207.3" y="496.8" width="2.2" height="1.6" fill="#74807c"/>
<rect x="209.4" y="495.1" width="1.3" height="1.8" fill="#949c98"/>
<rect x="206.8" y="497.7" width="1.8" height="1.6" fill="#50605c"/>
<rect x="210.6" y="496.1" width="2.5" height="1.1" fill="#74807c"/>
<rect x="267.1" y="491.8" width="2.6" height="1.5" fill="#3a4a48"/>
<rect x="270.2" y="492.6" width="1.1" height="1.2" fill="#3a4a48"/>
<rect x="270.7" y="492.1" width="1.8" height="2.4" fill="#2c3c3a"/>
<rect x="266.2" y="488.3" width="1.5" height="1.7" fill="#50605c"/>
<rect x="268.1" y="490.8" width="2.4" height="1.2" fill="#50605c"/>
<rect x="271.6" y="489.3" width="1.1" height="1.6" fill="#74807c"/>
<rect x="547.4" y="489.4" width="1.8" height="2.3" fill="#3a4a48"/>
<rect x="547.1" y="486.4" width="1.5" height="2.3" fill="#3a4a48"/>
<rect x="547.2" y="486.1" width="1.2" height="1.5" fill="#949c98"/>
<rect x="544.7" y="488.0" width="1.1" height="1.9" fill="#949c98"/>
<rect x="545.8" y="489.9" width="2.1" height="1.2" fill="#74807c"/>
<rect x="292.3" y="499.1" width="1.4" height="1.8" fill="#3a4a48"/>
<rect x="291.4" y="496.6" width="2.1" height="1.6" fill="#3a4a48"/>
<rect x="292.1" y="497.2" width="1.5" height="1.8" fill="#50605c"/>
<rect x="291.5" y="500.9" width="2.1" height="2.0" fill="#50605c"/>
<rect x="296.2" y="499.8" width="1.2" height="1.0" fill="#50605c"/>
<rect x="293.1" y="500.0" width="1.6" height="1.6" fill="#949c98"/>
<rect x="291.0" y="496.4" width="1.8" height="1.5" fill="#74807c"/>
<rect x="398.1" y="488.9" width="2.0" height="1.2" fill="#74807c"/>
<rect x="394.2" y="492.2" width="1.9" height="1.6" fill="#2c3c3a"/>
<rect x="394.0" y="490.2" width="1.9" height="1.9" fill="#50605c"/>
<rect x="393.5" y="492.0" width="2.0" height="1.3" fill="#74807c"/>
<rect x="291.1" y="494.2" width="1.1" height="2.2" fill="#949c98"/>
<rect x="289.1" y="496.1" width="1.7" height="1.2" fill="#50605c"/>
<rect x="288.5" y="493.0" width="1.9" height="1.9" fill="#2c3c3a"/>
<rect x="293.1" y="493.6" width="1.0" height="1.2" fill="#949c98"/>
<rect x="259.2" y="495.0" width="0.9" height="2.1" fill="#74807c"/>
<rect x="264.6" y="497.1" width="2.1" height="2.4" fill="#2c3c3a"/>
<rect x="265.8" y="497.2" width="2.2" height="2.3" fill="#949c98"/>
<rect x="265.7" y="494.9" width="1.5" height="1.1" fill="#74807c"/>
<rect x="259.5" y="497.9" width="0.9" height="2.3" fill="#949c98"/>
<rect x="264.3" y="498.4" width="2.0" height="2.4" fill="#74807c"/>
<rect x="491.7" y="488.0" width="1.5" height="2.1" fill="#2c3c3a"/>
<rect x="491.4" y="488.2" width="1.9" height="2.4" fill="#2c3c3a"/>
<rect x="492.7" y="488.7" width="1.1" height="1.8" fill="#3a4a48"/>
<rect x="495.2" y="488.7" width="1.4" height="1.4" fill="#3a4a48"/>
<rect x="492.3" y="488.2" width="1.0" height="1.2" fill="#74807c"/>
<rect x="191.2" y="486.5" width="2.3" height="1.1" fill="#949c98"/>
<rect x="189.0" y="488.0" width="1.9" height="2.2" fill="#2c3c3a"/>
<rect x="188.2" y="486.0" width="1.2" height="2.1" fill="#74807c"/>
<rect x="181.2" y="494.4" width="2.5" height="1.7" fill="#2c3c3a"/>
<rect x="181.1" y="493.4" width="1.3" height="1.7" fill="#74807c"/>
<rect x="272.2" y="494.1" width="1.1" height="2.4" fill="#2c3c3a"/>
<rect x="268.0" y="492.8" width="2.2" height="1.3" fill="#50605c"/>
<rect x="265.8" y="495.3" width="1.6" height="1.9" fill="#50605c"/>
<rect x="268.4" y="491.6" width="2.3" height="1.0" fill="#949c98"/>
<rect x="267.9" y="493.0" width="2.3" height="1.9" fill="#50605c"/>
<rect x="265.4" y="493.1" width="2.5" height="1.7" fill="#949c98"/>
<rect x="268.6" y="491.4" width="1.6" height="2.3" fill="#2c3c3a"/>
<rect x="448.6" y="492.5" width="1.5" height="1.4" fill="#949c98"/>
<rect x="451.4" y="489.8" width="1.2" height="1.1" fill="#50605c"/>
<rect x="446.4" y="490.0" width="1.3" height="1.3" fill="#74807c"/>
<rect x="427.7" y="493.1" width="1.0" height="2.4" fill="#50605c"/>
<rect x="428.0" y="491.3" width="2.3" height="2.1" fill="#50605c"/>
<rect x="130.9" y="495.6" width="1.1" height="1.4" fill="#2c3c3a"/>
<rect x="132.4" y="498.6" width="1.3" height="1.7" fill="#74807c"/>
<rect x="311.6" y="494.4" width="2.1" height="1.1" fill="#74807c"/>
<rect x="315.1" y="498.0" width="1.7" height="2.2" fill="#2c3c3a"/>
<rect x="525.2" y="500.6" width="1.1" height="1.1" fill="#50605c"/>
<rect x="525.4" y="501.2" width="1.1" height="2.2" fill="#2c3c3a"/>
<rect x="523.5" y="500.6" width="2.3" height="1.1" fill="#50605c"/>
<rect x="523.9" y="498.0" width="1.6" height="1.5" fill="#74807c"/>
<rect x="351.9" y="496.6" width="1.8" height="2.2" fill="#949c98"/>
<rect x="350.6" y="494.2" width="2.3" height="1.9" fill="#74807c"/>
<rect x="352.4" y="496.8" width="1.6" height="1.8" fill="#74807c"/>
<rect x="350.8" y="497.1" width="1.7" height="2.4" fill="#50605c"/>
<rect x="348.9" y="496.6" width="2.0" height="1.4" fill="#74807c"/>
<rect x="394.9" y="489.4" width="1.3" height="1.2" fill="#949c98"/>
<rect x="389.7" y="489.0" width="1.6" height="1.7" fill="#74807c"/>
<rect x="345.6" y="489.3" width="2.3" height="1.0" fill="#50605c"/>
<rect x="348.8" y="490.5" width="1.5" height="1.1" fill="#50605c"/>
<rect x="350.5" y="488.2" width="2.2" height="1.2" fill="#3a4a48"/>
<rect x="350.9" y="491.4" width="1.5" height="1.1" fill="#3a4a48"/>
<rect x="348.9" y="492.2" width="2.5" height="1.9" fill="#50605c"/>
<rect x="345.6" y="491.7" width="2.3" height="1.8" fill="#50605c"/>
<rect x="158.9" y="490.8" width="1.4" height="1.3" fill="#3a4a48"/>
<rect x="157.0" y="489.9" width="0.9" height="2.1" fill="#949c98"/>
<rect x="156.2" y="491.5" width="2.3" height="1.7" fill="#3a4a48"/>
<rect x="407.8" y="495.9" width="2.1" height="1.8" fill="#50605c"/>
<rect x="408.8" y="494.2" width="2.2" height="1.9" fill="#949c98"/>
<rect x="408.3" y="494.4" width="1.5" height="2.0" fill="#949c98"/>
<rect x="408.5" y="495.7" width="2.4" height="1.0" fill="#949c98"/>
<rect x="407.4" y="496.8" width="2.0" height="1.0" fill="#2c3c3a"/>
<rect x="407.3" y="494.9" width="1.1" height="2.4" fill="#50605c"/>
<rect x="409.1" y="492.8" width="2.5" height="1.9" fill="#3a4a48"/>
<rect x="121.3" y="497.4" width="2.5" height="1.7" fill="#74807c"/>
<rect x="118.1" y="493.4" width="1.8" height="1.4" fill="#74807c"/>
<rect x="120.9" y="496.9" width="1.1" height="1.1" fill="#3a4a48"/>
<rect x="115.0" y="494.9" width="1.8" height="2.4" fill="#949c98"/>
<rect x="115.1" y="497.0" width="1.3" height="1.2" fill="#50605c"/>
<rect x="121.0" y="497.4" width="2.5" height="2.3" fill="#74807c"/>
<rect x="121.0" y="492.6" width="1.7" height="1.8" fill="#949c98"/>
<rect x="408.9" y="495.7" width="2.5" height="0.9" fill="#2c3c3a"/>
<rect x="410.4" y="494.6" width="2.6" height="1.5" fill="#3a4a48"/>
<rect x="414.1" y="496.5" width="1.8" height="1.8" fill="#2c3c3a"/>
<rect x="106.7" y="489.6" width="1.6" height="1.4" fill="#50605c"/>
<rect x="102.6" y="489.9" width="1.3" height="1.0" fill="#50605c"/>
<rect x="103.5" y="487.1" width="2.0" height="1.6" fill="#3a4a48"/>
<rect x="569.8" y="491.6" width="1.7" height="2.1" fill="#50605c"/>
<rect x="570.0" y="493.7" width="1.9" height="1.8" fill="#949c98"/>
<rect x="570.5" y="494.7" width="1.2" height="1.2" fill="#50605c"/>
<rect x="361.1" y="498.8" width="1.8" height="1.0" fill="#949c98"/>
<rect x="358.1" y="495.9" width="1.6" height="2.4" fill="#50605c"/>
<rect x="361.1" y="495.2" width="1.0" height="2.2" fill="#3a4a48"/>
<rect x="313.1" y="497.8" width="1.5" height="1.3" fill="#949c98"/>
<rect x="317.3" y="494.2" width="2.6" height="2.3" fill="#2c3c3a"/>
<rect x="314.2" y="495.8" width="1.0" height="2.3" fill="#3a4a48"/>
<rect x="140.3" y="491.4" width="1.5" height="2.3" fill="#3a4a48"/>
<rect x="139.2" y="488.3" width="1.0" height="1.3" fill="#3a4a48"/>
<rect x="139.8" y="490.4" width="2.5" height="1.6" fill="#50605c"/>
<rect x="138.7" y="491.4" width="1.1" height="2.2" fill="#3a4a48"/>
<rect x="138.7" y="490.1" width="1.1" height="1.4" fill="#949c98"/>
<rect x="167.1" y="494.1" width="2.3" height="1.3" fill="#2c3c3a"/>
<rect x="162.0" y="493.0" width="1.0" height="1.4" fill="#949c98"/>
<rect x="162.7" y="496.7" width="2.0" height="1.1" fill="#74807c"/>
<rect x="166.9" y="496.7" width="1.7" height="1.8" fill="#74807c"/>
<rect x="164.6" y="492.8" width="2.5" height="2.4" fill="#2c3c3a"/>
<rect x="164.5" y="494.8" width="1.8" height="1.3" fill="#2c3c3a"/>
<rect x="193.4" y="494.9" width="1.6" height="2.3" fill="#949c98"/>
<rect x="191.3" y="497.1" width="1.2" height="0.9" fill="#50605c"/>
<rect x="193.5" y="496.5" width="2.3" height="1.7" fill="#74807c"/>
<rect x="228.4" y="499.3" width="1.9" height="1.5" fill="#949c98"/>
<rect x="230.0" y="496.2" width="2.5" height="1.6" fill="#949c98"/>
<rect x="231.9" y="499.3" width="1.2" height="1.7" fill="#50605c"/>
<rect x="486.8" y="500.5" width="1.2" height="2.3" fill="#50605c"/>
<rect x="489.6" y="500.7" width="0.9" height="1.6" fill="#2c3c3a"/>
<rect x="488.7" y="502.2" width="1.8" height="1.5" fill="#2c3c3a"/>
<rect x="489.8" y="499.6" width="1.7" height="2.2" fill="#949c98"/>
<rect x="337.0" y="486.1" width="1.1" height="0.9" fill="#949c98"/>
<rect x="335.6" y="486.2" width="2.3" height="1.3" fill="#74807c"/>
<rect x="338.1" y="487.0" width="2.4" height="1.7" fill="#74807c"/>
<rect x="334.9" y="486.1" width="1.0" height="2.2" fill="#3a4a48"/>
<rect x="334.5" y="490.0" width="1.8" height="1.4" fill="#3a4a48"/>
<rect x="431.0" y="499.0" width="2.5" height="1.9" fill="#50605c"/>
<rect x="431.1" y="498.2" width="1.2" height="2.1" fill="#50605c"/>
<rect x="430.4" y="494.4" width="2.3" height="2.3" fill="#50605c"/>
<rect x="428.7" y="497.4" width="2.0" height="1.5" fill="#2c3c3a"/>
<rect x="432.2" y="495.0" width="1.3" height="1.3" fill="#74807c"/>
<rect x="261.5" y="488.4" width="2.1" height="1.9" fill="#2c3c3a"/>
<rect x="259.1" y="489.1" width="1.6" height="2.0" fill="#2c3c3a"/>
<rect x="260.0" y="491.8" width="2.0" height="1.6" fill="#74807c"/>
<rect x="261.0" y="487.3" width="2.4" height="1.6" fill="#3a4a48"/>
<rect x="257.7" y="490.2" width="1.1" height="1.1" fill="#74807c"/>
<rect x="258.3" y="488.5" width="1.2" height="1.9" fill="#2c3c3a"/>
<rect x="258.4" y="491.7" width="2.4" height="1.3" fill="#949c98"/>
<rect x="414.0" y="499.4" width="1.8" height="1.6" fill="#2c3c3a"/>
<rect x="412.3" y="501.5" width="1.0" height="2.0" fill="#949c98"/>
<rect x="227.9" y="489.5" width="1.6" height="1.4" fill="#50605c"/>
<rect x="227.5" y="491.6" width="2.4" height="1.7" fill="#3a4a48"/>
<rect x="228.2" y="488.5" width="1.7" height="2.3" fill="#2c3c3a"/>
<rect x="228.4" y="489.7" width="1.6" height="1.8" fill="#949c98"/>
<rect x="231.7" y="488.5" width="1.8" height="2.4" fill="#949c98"/>
<rect x="226.0" y="488.2" width="2.6" height="1.8" fill="#3a4a48"/>
<rect x="381.4" y="493.0" width="1.4" height="2.1" fill="#2c3c3a"/>
<rect x="382.3" y="490.6" width="1.6" height="1.1" fill="#74807c"/>
<rect x="378.7" y="489.6" width="2.4" height="1.7" fill="#2c3c3a"/>
<rect x="379.2" y="491.8" width="1.6" height="1.1" fill="#74807c"/>
<rect x="380.8" y="492.2" width="1.3" height="2.1" fill="#3a4a48"/>
<rect x="382.1" y="491.4" width="1.0" height="2.0" fill="#3a4a48"/>
<rect x="379.1" y="491.2" width="1.6" height="1.5" fill="#74807c"/>
<rect x="474.3" y="497.4" width="1.7" height="1.8" fill="#50605c"/>
<rect x="474.1" y="496.4" width="1.5" height="0.9" fill="#949c98"/>
<rect x="471.7" y="496.9" width="2.4" height="1.2" fill="#2c3c3a"/>
<rect x="499.8" y="497.7" width="1.2" height="1.6" fill="#3a4a48"/>
<rect x="502.7" y="496.5" width="1.4" height="2.1" fill="#74807c"/>
<rect x="503.5" y="497.5" width="1.8" height="1.9" fill="#949c98"/>
<rect x="505.1" y="498.3" width="1.6" height="1.9" fill="#3a4a48"/>
<rect x="500.4" y="498.0" width="2.5" height="1.9" fill="#74807c"/>
<rect x="323.0" y="494.1" width="1.9" height="2.0" fill="#949c98"/>
<rect x="323.8" y="493.7" width="1.6" height="2.0" fill="#50605c"/>
<rect x="319.4" y="495.5" width="2.4" height="1.3" fill="#3a4a48"/>
<rect x="480.3" y="494.7" width="2.3" height="1.5" fill="#949c98"/>
<rect x="483.0" y="494.1" width="1.5" height="1.4" fill="#74807c"/>
<rect x="478.0" y="494.1" width="1.9" height="1.7" fill="#2c3c3a"/>
<rect x="477.2" y="494.5" width="1.5" height="2.0" fill="#2c3c3a"/>
<rect x="478.1" y="493.4" width="1.8" height="1.6" fill="#3a4a48"/>
<rect x="569.1" y="497.1" width="2.3" height="1.5" fill="#3a4a48"/>
<rect x="565.1" y="495.8" width="1.7" height="1.7" fill="#74807c"/>
<rect x="568.4" y="500.4" width="1.5" height="2.0" fill="#2c3c3a"/>
<rect x="564.5" y="498.3" width="1.2" height="1.4" fill="#3a4a48"/>
<rect x="567.1" y="497.0" width="1.5" height="1.7" fill="#2c3c3a"/>
<rect x="372.4" y="491.6" width="2.4" height="2.3" fill="#3a4a48"/>
<rect x="372.9" y="490.2" width="2.4" height="1.9" fill="#2c3c3a"/>
<rect x="376.6" y="491.4" width="1.7" height="1.9" fill="#2c3c3a"/>
<rect x="376.1" y="491.5" width="1.5" height="1.8" fill="#50605c"/>
<rect x="376.3" y="491.8" width="2.4" height="1.2" fill="#74807c"/>
<rect x="454.9" y="487.4" width="1.5" height="1.7" fill="#949c98"/>
<rect x="457.3" y="485.6" width="2.5" height="1.4" fill="#74807c"/>
<rect x="459.2" y="485.8" width="1.2" height="1.8" fill="#3a4a48"/>
<rect x="456.3" y="487.9" width="1.5" height="2.1" fill="#50605c"/>
<rect x="459.1" y="486.0" width="1.5" height="1.2" fill="#2c3c3a"/>
<rect x="458.9" y="488.6" width="2.2" height="1.9" fill="#949c98"/>
<rect x="114.3" y="494.0" width="1.9" height="2.2" fill="#2c3c3a"/>
<rect x="117.4" y="491.1" width="2.4" height="1.8" fill="#949c98"/>
<rect x="113.7" y="492.4" width="2.1" height="1.4" fill="#74807c"/>
<rect x="117.3" y="490.1" width="0.9" height="1.3" fill="#2c3c3a"/>
<rect x="113.6" y="490.5" width="1.3" height="0.9" fill="#50605c"/>
<rect x="114.7" y="489.9" width="1.2" height="1.1" fill="#2c3c3a"/>
<rect x="339.7" y="496.1" width="2.4" height="2.1" fill="#74807c"/>
<rect x="340.8" y="494.2" width="1.6" height="1.5" fill="#949c98"/>
<rect x="337.8" y="493.9" width="1.9" height="2.4" fill="#3a4a48"/>
<rect x="337.9" y="493.1" width="1.6" height="1.9" fill="#2c3c3a"/>
<rect x="414.7" y="493.1" width="1.8" height="1.6" fill="#50605c"/>
<rect x="417.4" y="490.8" width="1.6" height="1.7" fill="#949c98"/>
<rect x="419.1" y="493.1" width="2.3" height="1.0" fill="#3a4a48"/>
<rect x="372.4" y="490.8" width="2.4" height="1.7" fill="#2c3c3a"/>
<rect x="372.5" y="489.8" width="2.4" height="2.1" fill="#2c3c3a"/>
<rect x="371.9" y="494.2" width="2.4" height="1.8" fill="#949c98"/>
<rect x="373.0" y="492.1" width="1.2" height="1.6" fill="#3a4a48"/>
<rect x="373.5" y="490.3" width="1.7" height="1.7" fill="#50605c"/>
<rect x="598.4" y="498.5" width="2.0" height="1.2" fill="#2c3c3a"/>
<rect x="600.0" y="499.0" width="1.2" height="2.2" fill="#949c98"/>
<rect x="599.0" y="500.6" width="1.3" height="2.1" fill="#3a4a48"/>
<rect x="603.6" y="497.7" width="1.0" height="2.1" fill="#3a4a48"/>
<rect x="603.8" y="500.6" width="2.2" height="2.2" fill="#50605c"/>
<rect x="603.9" y="501.9" width="2.2" height="1.4" fill="#2c3c3a"/>
<rect x="415.6" y="499.1" width="2.4" height="1.9" fill="#74807c"/>
<rect x="414.6" y="498.5" width="1.7" height="2.4" fill="#3a4a48"/>
<rect x="402.0" y="488.6" width="1.2" height="1.3" fill="#50605c"/>
<rect x="403.9" y="491.6" width="1.1" height="1.9" fill="#74807c"/>
<rect x="403.9" y="489.9" width="0.9" height="1.5" fill="#949c98"/>
<rect x="293.9" y="493.7" width="1.9" height="1.7" fill="#74807c"/>
<rect x="294.1" y="494.9" width="2.5" height="1.2" fill="#949c98"/>
<rect x="109.2" y="494.9" width="1.2" height="2.0" fill="#2c3c3a"/>
<rect x="109.0" y="498.5" width="1.1" height="1.5" fill="#3a4a48"/>
<rect x="111.1" y="496.8" width="2.2" height="2.0" fill="#2c3c3a"/>
<rect x="107.7" y="494.0" width="1.4" height="1.8" fill="#2c3c3a"/>
<rect x="106.9" y="497.0" width="1.1" height="2.0" fill="#3a4a48"/>
<rect x="111.2" y="496.7" width="2.5" height="1.0" fill="#2c3c3a"/>
<rect x="106.8" y="494.6" width="1.7" height="1.6" fill="#2c3c3a"/>
<rect x="428.0" y="490.8" width="1.6" height="1.5" fill="#949c98"/>
<rect x="422.9" y="486.9" width="1.4" height="2.4" fill="#2c3c3a"/>
<rect x="423.6" y="488.5" width="0.9" height="2.2" fill="#949c98"/>
<rect x="535.4" y="489.2" width="1.6" height="2.0" fill="#50605c"/>
<rect x="535.3" y="489.1" width="2.0" height="1.3" fill="#50605c"/>
<rect x="530.8" y="492.3" width="2.2" height="1.9" fill="#3a4a48"/>
<rect x="533.2" y="492.9" width="1.5" height="1.3" fill="#949c98"/>
<rect x="595.8" y="497.9" width="2.5" height="2.2" fill="#949c98"/>
<rect x="599.5" y="496.3" width="1.3" height="1.6" fill="#50605c"/>
<rect x="600.0" y="495.6" width="1.6" height="1.7" fill="#3a4a48"/>
<rect x="598.7" y="498.1" width="1.6" height="1.8" fill="#3a4a48"/>
<rect x="595.6" y="497.9" width="1.2" height="1.6" fill="#2c3c3a"/>
<rect x="595.1" y="496.7" width="2.1" height="1.2" fill="#50605c"/>
<rect x="594.7" y="497.7" width="1.5" height="0.9" fill="#2c3c3a"/>
<rect x="448.0" y="498.2" width="2.0" height="1.0" fill="#3a4a48"/>
<rect x="451.7" y="494.2" width="1.7" height="1.6" fill="#74807c"/>
<rect x="447.9" y="496.1" width="1.3" height="2.0" fill="#74807c"/>
<rect x="449.8" y="496.4" width="2.5" height="1.9" fill="#3a4a48"/>
<rect x="446.9" y="496.3" width="2.1" height="1.5" fill="#3a4a48"/>
<rect x="449.9" y="494.3" width="2.0" height="1.4" fill="#2c3c3a"/>
<rect x="448.6" y="497.9" width="1.1" height="1.9" fill="#50605c"/>
<rect x="450.7" y="492.5" width="2.0" height="1.6" fill="#2c3c3a"/>
<rect x="444.3" y="493.0" width="1.0" height="1.7" fill="#3a4a48"/>
<rect x="444.8" y="495.7" width="2.4" height="2.3" fill="#50605c"/>
<rect x="448.8" y="495.8" width="2.4" height="1.7" fill="#949c98"/>
<rect x="227.7" y="486.7" width="2.2" height="1.8" fill="#74807c"/>
<rect x="222.3" y="487.5" width="2.3" height="1.6" fill="#949c98"/>
<rect x="222.0" y="486.6" width="1.8" height="1.4" fill="#50605c"/>
<rect x="225.6" y="490.2" width="2.2" height="1.3" fill="#74807c"/>
<rect x="225.1" y="487.4" width="1.4" height="2.3" fill="#74807c"/>
<rect x="227.4" y="488.7" width="2.4" height="1.0" fill="#2c3c3a"/>
<rect x="129.6" y="494.9" width="1.7" height="1.8" fill="#2c3c3a"/>
<rect x="127.1" y="493.9" width="1.7" height="1.3" fill="#50605c"/>
<rect x="293.0" y="501.7" width="1.7" height="1.1" fill="#3a4a48"/>
<rect x="293.7" y="501.7" width="2.1" height="1.7" fill="#3a4a48"/>
<rect x="294.4" y="499.5" width="1.9" height="1.0" fill="#2c3c3a"/>
<rect x="295.3" y="498.0" width="2.2" height="1.1" fill="#2c3c3a"/>
<rect x="299.8" y="498.9" width="1.6" height="2.3" fill="#3a4a48"/>
<rect x="298.7" y="501.8" width="1.2" height="1.6" fill="#50605c"/>
<rect x="299.4" y="498.3" width="2.0" height="1.0" fill="#3a4a48"/>
<rect x="578.1" y="495.2" width="2.5" height="2.4" fill="#949c98"/>
<rect x="579.3" y="497.4" width="1.8" height="1.7" fill="#50605c"/>
<rect x="579.4" y="495.9" width="1.4" height="1.2" fill="#50605c"/>
<rect x="583.0" y="494.8" width="1.6" height="1.9" fill="#3a4a48"/>
<rect x="334.7" y="487.4" width="1.6" height="2.2" fill="#74807c"/>
<rect x="335.7" y="488.0" width="1.2" height="2.4" fill="#949c98"/>
<rect x="228.6" y="488.8" width="2.2" height="1.8" fill="#74807c"/>
<rect x="227.3" y="489.0" width="1.5" height="1.5" fill="#50605c"/>
<rect x="225.3" y="487.0" width="1.7" height="1.7" fill="#50605c"/>
<rect x="230.0" y="489.1" width="2.3" height="1.5" fill="#2c3c3a"/>
<rect x="226.2" y="487.3" width="1.1" height="2.1" fill="#50605c"/>
<rect x="228.5" y="488.9" width="2.1" height="2.4" fill="#949c98"/>
<rect x="554.5" y="488.1" width="1.1" height="1.0" fill="#74807c"/>
<rect x="555.7" y="489.7" width="2.5" height="2.1" fill="#50605c"/>
<rect x="554.2" y="485.8" width="2.0" height="2.1" fill="#50605c"/>
<rect x="552.6" y="485.7" width="1.6" height="1.0" fill="#949c98"/>
<rect x="382.9" y="489.5" width="1.0" height="1.5" fill="#50605c"/>
<rect x="380.5" y="488.6" width="2.0" height="2.0" fill="#949c98"/>
<rect x="379.6" y="489.6" width="2.0" height="1.2" fill="#2c3c3a"/>
<rect x="382.3" y="488.8" width="1.9" height="1.3" fill="#50605c"/>
<rect x="382.8" y="492.4" width="2.5" height="2.0" fill="#2c3c3a"/>
<rect x="338.7" y="498.0" width="2.4" height="2.1" fill="#949c98"/>
<rect x="341.9" y="499.3" width="2.3" height="1.0" fill="#3a4a48"/>
<rect x="343.1" y="499.7" width="2.5" height="2.1" fill="#2c3c3a"/>
<rect x="341.0" y="497.7" width="1.9" height="1.3" fill="#949c98"/>
<rect x="340.2" y="499.6" width="2.3" height="0.9" fill="#949c98"/>
<rect x="340.5" y="499.9" width="1.3" height="1.4" fill="#949c98"/>
<rect x="343.2" y="496.3" width="1.5" height="1.9" fill="#74807c"/>
<rect x="335.8" y="490.8" width="1.9" height="1.8" fill="#949c98"/>
<rect x="336.6" y="488.1" width="2.6" height="2.2" fill="#74807c"/>
<rect x="336.9" y="490.5" width="2.0" height="1.6" fill="#74807c"/>
<rect x="339.1" y="489.1" width="1.1" height="1.1" fill="#3a4a48"/>
<rect x="338.9" y="488.6" width="0.9" height="2.2" fill="#50605c"/>
<rect x="333.2" y="489.5" width="2.3" height="1.7" fill="#50605c"/>
<rect x="335.6" y="490.4" width="1.7" height="1.5" fill="#74807c"/>
<rect x="361.2" y="501.3" width="1.2" height="1.7" fill="#949c98"/>
<rect x="356.9" y="498.0" width="1.0" height="1.5" fill="#3a4a48"/>
<rect x="360.2" y="498.0" width="1.4" height="1.5" fill="#50605c"/>
<rect x="359.9" y="498.1" width="2.1" height="1.8" fill="#50605c"/>
<rect x="191.5" y="489.8" width="1.2" height="2.1" fill="#2c3c3a"/>
<rect x="189.8" y="487.9" width="1.7" height="1.0" fill="#50605c"/>
<rect x="125.0" y="495.3" width="1.3" height="2.1" fill="#50605c"/>
<rect x="125.9" y="496.1" width="2.5" height="1.2" fill="#50605c"/>
<rect x="203.8" y="500.3" width="1.0" height="1.8" fill="#50605c"/>
<rect x="202.0" y="500.3" width="2.4" height="1.7" fill="#2c3c3a"/>
<rect x="251.3" y="497.7" width="2.4" height="1.5" fill="#74807c"/>
<rect x="250.3" y="500.9" width="1.5" height="1.2" fill="#2c3c3a"/>
<rect x="254.0" y="498.8" width="1.4" height="1.3" fill="#949c98"/>
<rect x="252.3" y="499.1" width="1.7" height="1.0" fill="#949c98"/>
<rect x="252.0" y="499.2" width="1.4" height="1.0" fill="#50605c"/>
</g>
<line x1="101.5" y1="485.5" x2="609.5" y2="485.5" stroke="#8a8878" stroke-width="0.7"/>
<path d="M101.3,503 L609.6,503 L609.6,571 L601.8,571 L596.6,521.7 L114.5,521.7 L109.3,571 L101.3,571 Z" fill="#a98a73" stroke="#5a4636" stroke-width="0.8"/>
<rect x="58.5" y="572" width="49.8" height="16.5" fill="#d2d2d2" stroke="#555" stroke-width="1"/>
<rect x="600.5" y="571" width="51.5" height="16.5" fill="#d2d2d2" stroke="#555" stroke-width="1"/>
<path d="M44,564 L408,559.4 Q440.3,559 440.3,527 L440.3,486" fill="none" stroke="#1c1515" stroke-width="7.6"/>
<path d="M101.5,574.5 q1,-1 2,0 q1,1 2,0 M102.0,577 q1,-1 2,0 q1,1 2,0" stroke="#222" stroke-width="0.7" fill="none"/>
<path d="M606,574.5 q1,-1 2,0 q1,1 2,0 M606.5,577 q1,-1 2,0 q1,1 2,0" stroke="#222" stroke-width="0.7" fill="none"/>
<path d="M644,573.0 q1,-1 2,0 q1,1 2,0 M644.5,575.5 q1,-1 2,0 q1,1 2,0" stroke="#222" stroke-width="0.7" fill="none"/>
<path d="M645,581.0 q1,-1 2,0 q1,1 2,0 M645.5,583.5 q1,-1 2,0 q1,1 2,0" stroke="#222" stroke-width="0.7" fill="none"/>
<path d="M60,177.7 L356.3,18.4 L652.6,178 L652.6,192.4 L356.3,31.8 L60,192.1 Z" fill="#c3a464" stroke="#4a3a1c" stroke-width="1.1"/>
<line x1="356.3" y1="18.4" x2="356.3" y2="31.8" stroke="#4a3a1c" stroke-width="1.1"/>
<rect x="229.5" y="159.6" width="68.3" height="3" fill="#c49a5a" stroke="#6b5020" stroke-width="0.6"/>
<rect x="230.5" y="162.6" width="11" height="8" fill="#e8c070" stroke="#a88040" stroke-width="0.5"/>
<rect x="285.7" y="162.6" width="11" height="8" fill="#e8c070" stroke="#a88040" stroke-width="0.5"/>
<path d="M233.8,139.2 L293.2,139.2 L293.2,156 Q293.2,158.8 290.4,158.8 L236.6,158.8 Q233.8,158.8 233.8,156 Z" fill="url(#wat)" stroke="#123a60" stroke-width="0.8"/>
<path d="M234.5,139 L234.5,121" stroke="#555" stroke-width="0.7" fill="none"/>
<path d="M292.7,139 L292.7,124" stroke="#555" stroke-width="0.7" fill="none"/>
<path d="M231,123 L234,119.2 L258,119.2 M268.4,119.2 L292,119.2 L295,123" stroke="#222" stroke-width="0.8" fill="none"/>
<path d="M258,119.2 L258,114.5 L256,114.5 L263.2,109.4 L270.4,114.5 L268.4,114.5 L268.4,119.2" stroke="#222" stroke-width="0.8" fill="none"/>
<path d="M263.5,130 L263.5,122.8 L286.5,122.8 L286.5,129" stroke="#111" stroke-width="1.5" fill="none"/>
<circle cx="262.4" cy="133.2" r="5.5" fill="url(#ball)" stroke="#7a4a30" stroke-width="0.6"/>
<path d="M279,126.5 L279,132.5 L292.7,126.5 L292.7,132.5 Z" fill="#fff" stroke="#222" stroke-width="0.8"/>
<path d="M273.5,132 L273.5,129.8 L279,129.8 M292.7,129.8 L301,129.8" stroke="#1b7fc1" stroke-width="1.6" fill="none"/>
<path d="M290.4,285.1 L290.4,218 Q290.4,198.2 313,198.2 Q335.5,198.2 335.5,218 L335.5,285.1 Z" fill="url(#cop)" stroke="#7a4630" stroke-width="0.6"/>
<line x1="290.2" y1="218.2" x2="336.2" y2="218.2" stroke="#4a2818" stroke-width="1.3"/>
<ellipse cx="312.8" cy="249.1" rx="9.8" ry="2.3" fill="none" stroke="#2e2220" stroke-width="2.2"/>
<ellipse cx="312.8" cy="249.1" rx="7.5" ry="0.8" fill="none" stroke="#d8b8a8" stroke-width="0.6"/>
<ellipse cx="312.8" cy="254.4" rx="9.8" ry="2.3" fill="none" stroke="#2e2220" stroke-width="2.2"/>
<ellipse cx="312.8" cy="254.4" rx="7.5" ry="0.8" fill="none" stroke="#d8b8a8" stroke-width="0.6"/>
<ellipse cx="312.8" cy="259.8" rx="9.8" ry="2.3" fill="none" stroke="#2e2220" stroke-width="2.2"/>
<ellipse cx="312.8" cy="259.8" rx="7.5" ry="0.8" fill="none" stroke="#d8b8a8" stroke-width="0.6"/>
<ellipse cx="312.8" cy="265.1" rx="9.8" ry="2.3" fill="none" stroke="#2e2220" stroke-width="2.2"/>
<ellipse cx="312.8" cy="265.1" rx="7.5" ry="0.8" fill="none" stroke="#d8b8a8" stroke-width="0.6"/>
<ellipse cx="312.8" cy="270.5" rx="9.8" ry="2.3" fill="none" stroke="#2e2220" stroke-width="2.2"/>
<ellipse cx="312.8" cy="270.5" rx="7.5" ry="0.8" fill="none" stroke="#d8b8a8" stroke-width="0.6"/>
<path d="M323.5,246 Q326,252 322.5,256 Q326,262 322.5,267 Q326,271 322.5,275" fill="none" stroke="#3a2a24" stroke-width="1.3"/>
<path d="M290.4,244.1 L320.5,244.1 Q324,244.1 324,248" fill="none" stroke="#5a1a10" stroke-width="3.2"/>
<path d="M290.4,244.1 L320.5,244.1 Q324,244.1 324,248" fill="none" stroke="#a83224" stroke-width="1.8"/>
<path d="M290.4,275.1 L319.5,275.1 Q323,275.1 323,271" fill="none" stroke="#1a3a50" stroke-width="3.2"/>
<path d="M290.4,275.1 L319.5,275.1 Q323,275.1 323,271" fill="none" stroke="#2a78a8" stroke-width="1.8"/>
<path d="M254.4,296.3 L254.4,277.4 L250,277.4 L256.1,266.5 L262.1,277.4 L257.8,277.4 L257.8,296.3 Z" fill="#b8302a" stroke="#7a1a10" stroke-width="0.5"/>
<path d="M286.9,381 L289.7,381 L289.7,400 L293.8,400 L288.3,409.3 L282.9,400 L286.9,400 Z" fill="#2a88d0" stroke="#124a80" stroke-width="0.5"/>
<path d="M233.7,152.4 L204.9,152.4 L204.9,470 L132.7,470 L132.7,417" fill="none" stroke="#c4e8f6" stroke-width="4.3" stroke-linejoin="miter"/>
<path d="M290.4,275.1 L279.6,275.1 L279.6,469.8 L601.5,469.8 L601.5,306" fill="none" stroke="#c4e8f6" stroke-width="4.3" stroke-linejoin="miter"/>
<path d="M410.4,469.8 L410.4,450" fill="none" stroke="#c4e8f6" stroke-width="4.3" stroke-linejoin="miter"/>
<path d="M561.6,469.8 L561.6,450" fill="none" stroke="#c4e8f6" stroke-width="4.3" stroke-linejoin="miter"/>
<path d="M514.6,306 L514.6,327.3 L601.5,327.3" fill="none" stroke="#c4e8f6" stroke-width="4.3" stroke-linejoin="miter"/>
<path d="M243.5,126 L243.5,112.3 L212.4,112.3 L212.4,371.3" fill="none" stroke="#c62a20" stroke-width="3" stroke-linejoin="miter"/>
<path d="M167.7,371.3 L221,371.3" fill="none" stroke="#c02a1f" stroke-width="3" stroke-linejoin="miter"/>
<path d="M236,371.3 L252,371.3" fill="none" stroke="#c02a1f" stroke-width="3" stroke-linejoin="miter"/>
<path d="M290.4,244.1 L263.2,244.1 L263.2,460.9 L467.7,460.9 L467.7,450" fill="none" stroke="#c02a1f" stroke-width="3" stroke-linejoin="miter"/>
<path d="M316.4,460.9 L316.4,450" fill="none" stroke="#c02a1f" stroke-width="3" stroke-linejoin="miter"/>
<path d="M297.2,460.9 L297.2,318.8 L533.3,318.8 L533.3,306" fill="none" stroke="#c02a1f" stroke-width="3" stroke-linejoin="miter"/>
<path d="M446.8,318.8 L446.8,306" fill="none" stroke="#c02a1f" stroke-width="3" stroke-linejoin="miter"/>
<path d="M233.7,152.4 L204.9,152.4 L204.9,470 L132.7,470 L132.7,417" fill="none" stroke="#15699c" stroke-width="3" stroke-linejoin="miter"/>
<path d="M290.4,275.1 L279.6,275.1 L279.6,469.8 L601.5,469.8 L601.5,306" fill="none" stroke="#15699c" stroke-width="3" stroke-linejoin="miter"/>
<path d="M410.4,469.8 L410.4,450" fill="none" stroke="#15699c" stroke-width="3" stroke-linejoin="miter"/>
<path d="M561.6,469.8 L561.6,450" fill="none" stroke="#15699c" stroke-width="3" stroke-linejoin="miter"/>
<path d="M514.6,306 L514.6,327.3 L601.5,327.3" fill="none" stroke="#15699c" stroke-width="3" stroke-linejoin="miter"/>
<rect x="142.4" y="289.2" width="35.3" height="19.5" fill="#d62424" stroke="#2a0808" stroke-width="1.2"/>
<rect x="146.4" y="293.8" width="13.6" height="8.5" fill="#fff" stroke="#4a1010" stroke-width="0.6"/>
<rect x="380" y="356.2" width="18.8" height="20.4" fill="#d42626" stroke="#3a0a0a" stroke-width="1.1"/>
<circle cx="389.1" cy="366.4" r="5.5" fill="#fff" stroke="#3a0a0a" stroke-width="0.9"/>
<rect x="128.6" y="359.7" width="39.1" height="57.3" fill="url(#boil)" stroke="#6a6a6a" stroke-width="1"/>
<rect x="129.1" y="408.7" width="38.1" height="7.8" fill="#a9b6c2"/>
<circle cx="155.6" cy="412.2" r="1.5" fill="#fff" stroke="#222" stroke-width="0.7"/>
<circle cx="162.1" cy="412.2" r="1.5" fill="#fff" stroke="#222" stroke-width="0.7"/>
<rect x="139.6" y="383.6" width="16.6" height="12.8" fill="#d89868" stroke="#3a2010" stroke-width="0.9"/>
<text x="141.2" y="395" font-family="Liberation Sans, sans-serif" font-size="11" font-weight="bold" textLength="13.4" lengthAdjust="spacingAndGlyphs" fill="#1e1004">dMd</text>
<circle cx="228.8" cy="371.6" r="8.8" fill="#111"/>
<path d="M225.9,363 L237.4,371.5 L225.9,380.2 Z" fill="#fff"/>
<path d="M250.6,366.2 L250.6,376.2 L262.8,371.3 Z" fill="#241010"/>
<path d="M258.1,358.3 L267.8,358.3 L262.9,371.3 Z" fill="#241010"/>
<path d="M258.1,383.2 L267.8,383.2 L262.9,371.3 Z" fill="#241010"/>
<rect x="452.4" y="260.4" width="55.8" height="50.0" rx="1.5" fill="url(#rad)" stroke="#8e8e8e" stroke-width="1.3"/>
<rect x="460.1" y="267.2" width="3.2" height="36.5" rx="1.6" fill="#dedede" stroke="#8c8c8c" stroke-width="0.6"/>
<rect x="466.5" y="267.2" width="3.2" height="36.5" rx="1.6" fill="#dedede" stroke="#8c8c8c" stroke-width="0.6"/>
<rect x="473.0" y="267.2" width="3.2" height="36.5" rx="1.6" fill="#dedede" stroke="#8c8c8c" stroke-width="0.6"/>
<rect x="479.4" y="267.2" width="3.2" height="36.5" rx="1.6" fill="#dedede" stroke="#8c8c8c" stroke-width="0.6"/>
<rect x="485.8" y="267.2" width="3.2" height="36.5" rx="1.6" fill="#dedede" stroke="#8c8c8c" stroke-width="0.6"/>
<rect x="492.3" y="267.2" width="3.2" height="36.5" rx="1.6" fill="#dedede" stroke="#8c8c8c" stroke-width="0.6"/>
<rect x="498.7" y="267.2" width="3.2" height="36.5" rx="1.6" fill="#dedede" stroke="#8c8c8c" stroke-width="0.6"/>
<rect x="538.8" y="261.2" width="55.9" height="50.2" rx="1.5" fill="url(#rad)" stroke="#8e8e8e" stroke-width="1.3"/>
<rect x="546.7" y="268.0" width="3.2" height="36.7" rx="1.6" fill="#dedede" stroke="#8c8c8c" stroke-width="0.6"/>
<rect x="553.1" y="268.0" width="3.2" height="36.7" rx="1.6" fill="#dedede" stroke="#8c8c8c" stroke-width="0.6"/>
<rect x="559.4" y="268.0" width="3.2" height="36.7" rx="1.6" fill="#dedede" stroke="#8c8c8c" stroke-width="0.6"/>
<rect x="565.8" y="268.0" width="3.2" height="36.7" rx="1.6" fill="#dedede" stroke="#8c8c8c" stroke-width="0.6"/>
<rect x="572.2" y="268.0" width="3.2" height="36.7" rx="1.6" fill="#dedede" stroke="#8c8c8c" stroke-width="0.6"/>
<rect x="578.5" y="268.0" width="3.2" height="36.7" rx="1.6" fill="#dedede" stroke="#8c8c8c" stroke-width="0.6"/>
<rect x="584.9" y="268.0" width="3.2" height="36.7" rx="1.6" fill="#dedede" stroke="#8c8c8c" stroke-width="0.6"/>
<rect x="322.4" y="403.5" width="81.3" height="50.9" rx="1.5" fill="url(#rad)" stroke="#8e8e8e" stroke-width="1.3"/>
<rect x="328.0" y="410.3" width="3.2" height="37.4" rx="1.6" fill="#dedede" stroke="#8c8c8c" stroke-width="0.6"/>
<rect x="334.7" y="410.3" width="3.2" height="37.4" rx="1.6" fill="#dedede" stroke="#8c8c8c" stroke-width="0.6"/>
<rect x="341.3" y="410.3" width="3.2" height="37.4" rx="1.6" fill="#dedede" stroke="#8c8c8c" stroke-width="0.6"/>
<rect x="348.0" y="410.3" width="3.2" height="37.4" rx="1.6" fill="#dedede" stroke="#8c8c8c" stroke-width="0.6"/>
<rect x="354.7" y="410.3" width="3.2" height="37.4" rx="1.6" fill="#dedede" stroke="#8c8c8c" stroke-width="0.6"/>
<rect x="361.4" y="410.3" width="3.2" height="37.4" rx="1.6" fill="#dedede" stroke="#8c8c8c" stroke-width="0.6"/>
<rect x="368.0" y="410.3" width="3.2" height="37.4" rx="1.6" fill="#dedede" stroke="#8c8c8c" stroke-width="0.6"/>
<rect x="374.7" y="410.3" width="3.2" height="37.4" rx="1.6" fill="#dedede" stroke="#8c8c8c" stroke-width="0.6"/>
<rect x="381.4" y="410.3" width="3.2" height="37.4" rx="1.6" fill="#dedede" stroke="#8c8c8c" stroke-width="0.6"/>
<rect x="388.0" y="410.3" width="3.2" height="37.4" rx="1.6" fill="#dedede" stroke="#8c8c8c" stroke-width="0.6"/>
<rect x="394.7" y="410.3" width="3.2" height="37.4" rx="1.6" fill="#dedede" stroke="#8c8c8c" stroke-width="0.6"/>
<rect x="473.6" y="403.5" width="82.3" height="50.9" rx="1.5" fill="url(#rad)" stroke="#8e8e8e" stroke-width="1.3"/>
<rect x="479.4" y="410.3" width="3.2" height="37.4" rx="1.6" fill="#dedede" stroke="#8c8c8c" stroke-width="0.6"/>
<rect x="486.0" y="410.3" width="3.2" height="37.4" rx="1.6" fill="#dedede" stroke="#8c8c8c" stroke-width="0.6"/>
<rect x="492.7" y="410.3" width="3.2" height="37.4" rx="1.6" fill="#dedede" stroke="#8c8c8c" stroke-width="0.6"/>
<rect x="499.3" y="410.3" width="3.2" height="37.4" rx="1.6" fill="#dedede" stroke="#8c8c8c" stroke-width="0.6"/>
<rect x="506.0" y="410.3" width="3.2" height="37.4" rx="1.6" fill="#dedede" stroke="#8c8c8c" stroke-width="0.6"/>
<rect x="512.6" y="410.3" width="3.2" height="37.4" rx="1.6" fill="#dedede" stroke="#8c8c8c" stroke-width="0.6"/>
<rect x="519.3" y="410.3" width="3.2" height="37.4" rx="1.6" fill="#dedede" stroke="#8c8c8c" stroke-width="0.6"/>
<rect x="525.9" y="410.3" width="3.2" height="37.4" rx="1.6" fill="#dedede" stroke="#8c8c8c" stroke-width="0.6"/>
<rect x="532.6" y="410.3" width="3.2" height="37.4" rx="1.6" fill="#dedede" stroke="#8c8c8c" stroke-width="0.6"/>
<rect x="539.2" y="410.3" width="3.2" height="37.4" rx="1.6" fill="#dedede" stroke="#8c8c8c" stroke-width="0.6"/>
<rect x="545.9" y="410.3" width="3.2" height="37.4" rx="1.6" fill="#dedede" stroke="#8c8c8c" stroke-width="0.6"/>
<rect x="448.2" y="301.8" width="4" height="5.2" fill="#6a6656"/>
<rect x="444.3" y="299.5" width="4.9" height="8.6" fill="url(#lks)"/>
<rect x="442.7" y="290.5" width="8" height="9.5" rx="1.5" fill="#fbfbfb" stroke="#5a4a40" stroke-width="0.7"/>
<rect x="442.7" y="292.0" width="8" height="2.6" fill="#6e2a2a"/>
<rect x="512.6" y="295.7" width="0" height="0"/>
<rect x="508.9" y="301.2" width="4" height="5.5" fill="#6a6656"/>
<rect x="511.9" y="293.9" width="5" height="14.2" rx="2.5" fill="url(#lks)" stroke="#5e5a48" stroke-width="0.5"/>
<rect x="534.4" y="302.3" width="4" height="5.2" fill="#6a6656"/>
<rect x="530.5" y="300.0" width="4.9" height="8.6" fill="url(#lks)"/>
<rect x="528.9" y="291" width="8" height="9.5" rx="1.5" fill="#fbfbfb" stroke="#5a4a40" stroke-width="0.7"/>
<rect x="528.9" y="292.5" width="8" height="2.6" fill="#6e2a2a"/>
<rect x="599.4" y="296.3" width="0" height="0"/>
<rect x="595.7" y="301.8" width="4" height="5.5" fill="#6a6656"/>
<rect x="598.7" y="294.5" width="5" height="14.2" rx="2.5" fill="url(#lks)" stroke="#5e5a48" stroke-width="0.5"/>
<rect x="316.6" y="439.0" width="0" height="0"/>
<rect x="318.1" y="444.5" width="4" height="5.5" fill="#6a6656"/>
<rect x="314.1" y="437.2" width="5" height="14.2" rx="2.5" fill="url(#lks)" stroke="#5e5a48" stroke-width="0.5"/>
<rect x="406.6" y="439.0" width="0" height="0"/>
<rect x="402.9" y="444.5" width="4" height="5.5" fill="#6a6656"/>
<rect x="405.9" y="437.2" width="5" height="14.2" rx="2.5" fill="url(#lks)" stroke="#5e5a48" stroke-width="0.5"/>
<rect x="468.8" y="445.1" width="4" height="5.2" fill="#6a6656"/>
<rect x="464.9" y="442.8" width="4.9" height="8.6" fill="url(#lks)"/>
<rect x="463.3" y="433.8" width="8" height="9.5" rx="1.5" fill="#fbfbfb" stroke="#5a4a40" stroke-width="0.7"/>
<rect x="463.3" y="435.3" width="8" height="2.6" fill="#6e2a2a"/>
<rect x="559.1" y="439.0" width="0" height="0"/>
<rect x="555.4" y="444.5" width="4" height="5.5" fill="#6a6656"/>
<rect x="558.4" y="437.2" width="5" height="14.2" rx="2.5" fill="url(#lks)" stroke="#5e5a48" stroke-width="0.5"/>
<path d="M157.1,289.2 L157.1,229.9 L331,229.9 L331,255.5" fill="none" stroke="#111" stroke-width="2.1" stroke-dasharray="3.9,2.3"/>
<path d="M389.3,356.2 L389.3,300.2 L177.7,300.2" fill="none" stroke="#111" stroke-width="2.1" stroke-dasharray="3.9,2.3"/>
<path d="M152.1,359.5 L152.1,308.7" fill="none" stroke="#111" stroke-width="2.1" stroke-dasharray="3.9,2.3"/>
<path d="M152.1,346 L227,346 L227,362.5" fill="none" stroke="#111" stroke-width="2.1" stroke-dasharray="3.9,2.3"/>
<path d="M266.5,371.6 L285,371.6 L285,325.7 L164.3,325.7 L164.3,308.7" fill="none" stroke="#111" stroke-width="2.1" stroke-dasharray="3.9,2.3"/>
<rect x="327.3" y="255.5" width="8.2" height="11.8" fill="#c02020" stroke="#5a1010" stroke-width="0.7"/>
<ellipse cx="331.4" cy="261.4" rx="2.5" ry="3.5" fill="#fff"/>
</svg>
</body></html>
